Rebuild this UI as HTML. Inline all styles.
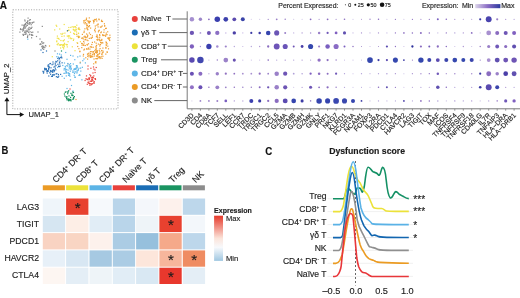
<!DOCTYPE html>
<html><head><meta charset="utf-8"><title>Figure</title>
<style>html,body{margin:0;padding:0;background:#fff;}text{stroke:#1e1e1e;stroke-width:0.15px;}body{width:520px;height:298px;overflow:hidden;}svg{display:block;}</style>
</head><body>
<svg width="520" height="298" viewBox="0 0 520 298" font-family="'Liberation Sans', Arial, sans-serif">
<rect width="520" height="298" fill="#fff"/>
<text x="-0.3" y="9.3" font-size="10" font-weight="bold" fill="#111">A</text>
<text x="1.6" y="153.9" font-size="10.3" font-weight="bold" fill="#111" transform="translate(1.6 0) scale(0.92 1) translate(-1.6 0)">B</text>
<text x="265.3" y="155.1" font-size="10.8" font-weight="bold" fill="#111" transform="translate(265.3 0) scale(0.9 1) translate(-265.3 0)">C</text>
<rect x="12.8" y="9.8" width="105.2" height="99.10000000000001" fill="none" stroke="#a8a8a8" stroke-width="1" stroke-dasharray="1.1 1.5"/>
<rect x="94.0" y="41.4" width="1.2" height="1.2" fill="#eea035"/>
<rect x="107.7" y="37.5" width="1.2" height="1.2" fill="#eea035"/>
<rect x="95.6" y="42.6" width="1.2" height="1.2" fill="#eea035"/>
<rect x="86.3" y="39.4" width="1.2" height="1.2" fill="#eea035"/>
<rect x="99.2" y="51.2" width="1.2" height="1.2" fill="#eea035"/>
<rect x="83.6" y="30.6" width="1.2" height="1.2" fill="#eea035"/>
<rect x="101.0" y="19.7" width="1.2" height="1.2" fill="#eea035"/>
<rect x="99.9" y="43.8" width="1.2" height="1.2" fill="#eea035"/>
<rect x="96.2" y="20.4" width="1.2" height="1.2" fill="#eea035"/>
<rect x="86.4" y="28.1" width="1.2" height="1.2" fill="#eea035"/>
<rect x="81.8" y="37.4" width="1.2" height="1.2" fill="#eea035"/>
<rect x="93.7" y="53.3" width="1.2" height="1.2" fill="#eea035"/>
<rect x="96.0" y="44.8" width="1.2" height="1.2" fill="#eea035"/>
<rect x="95.4" y="45.7" width="1.2" height="1.2" fill="#eea035"/>
<rect x="94.2" y="29.6" width="1.2" height="1.2" fill="#eea035"/>
<rect x="105.3" y="47.6" width="1.2" height="1.2" fill="#eea035"/>
<rect x="90.0" y="27.5" width="1.2" height="1.2" fill="#eea035"/>
<rect x="89.3" y="20.8" width="1.2" height="1.2" fill="#eea035"/>
<rect x="103.1" y="34.7" width="1.2" height="1.2" fill="#eea035"/>
<rect x="105.5" y="34.1" width="1.2" height="1.2" fill="#eea035"/>
<rect x="107.3" y="37.6" width="1.2" height="1.2" fill="#eea035"/>
<rect x="109.3" y="34.6" width="1.2" height="1.2" fill="#eea035"/>
<rect x="83.0" y="44.3" width="1.2" height="1.2" fill="#eea035"/>
<rect x="103.5" y="29.2" width="1.2" height="1.2" fill="#eea035"/>
<rect x="83.4" y="31.9" width="1.2" height="1.2" fill="#eea035"/>
<rect x="84.3" y="28.2" width="1.2" height="1.2" fill="#eea035"/>
<rect x="104.0" y="25.4" width="1.2" height="1.2" fill="#eea035"/>
<rect x="97.1" y="36.7" width="1.2" height="1.2" fill="#eea035"/>
<rect x="86.4" y="48.6" width="1.2" height="1.2" fill="#eea035"/>
<rect x="84.7" y="44.9" width="1.2" height="1.2" fill="#eea035"/>
<rect x="84.3" y="35.6" width="1.2" height="1.2" fill="#eea035"/>
<rect x="87.1" y="29.2" width="1.2" height="1.2" fill="#eea035"/>
<rect x="89.7" y="55.1" width="1.2" height="1.2" fill="#eea035"/>
<rect x="87.0" y="34.5" width="1.2" height="1.2" fill="#eea035"/>
<rect x="105.7" y="44.9" width="1.2" height="1.2" fill="#eea035"/>
<rect x="87.1" y="28.7" width="1.2" height="1.2" fill="#eea035"/>
<rect x="103.3" y="31.7" width="1.2" height="1.2" fill="#eea035"/>
<rect x="89.5" y="21.0" width="1.2" height="1.2" fill="#eea035"/>
<rect x="83.5" y="42.4" width="1.2" height="1.2" fill="#eea035"/>
<rect x="87.9" y="43.2" width="1.2" height="1.2" fill="#eea035"/>
<rect x="91.7" y="36.9" width="1.2" height="1.2" fill="#eea035"/>
<rect x="108.7" y="38.2" width="1.2" height="1.2" fill="#eea035"/>
<rect x="97.6" y="54.3" width="1.2" height="1.2" fill="#eea035"/>
<rect x="86.2" y="24.4" width="1.2" height="1.2" fill="#eea035"/>
<rect x="88.1" y="25.9" width="1.2" height="1.2" fill="#eea035"/>
<rect x="106.5" y="43.2" width="1.2" height="1.2" fill="#eea035"/>
<rect x="93.1" y="22.3" width="1.2" height="1.2" fill="#eea035"/>
<rect x="87.8" y="47.5" width="1.2" height="1.2" fill="#eea035"/>
<rect x="88.4" y="52.5" width="1.2" height="1.2" fill="#eea035"/>
<rect x="98.2" y="30.2" width="1.2" height="1.2" fill="#eea035"/>
<rect x="86.0" y="48.2" width="1.2" height="1.2" fill="#eea035"/>
<rect x="97.1" y="53.7" width="1.2" height="1.2" fill="#eea035"/>
<rect x="98.7" y="29.7" width="1.2" height="1.2" fill="#eea035"/>
<rect x="93.8" y="20.4" width="1.2" height="1.2" fill="#eea035"/>
<rect x="86.0" y="33.4" width="1.2" height="1.2" fill="#eea035"/>
<rect x="97.5" y="23.4" width="1.2" height="1.2" fill="#eea035"/>
<rect x="91.4" y="55.3" width="1.2" height="1.2" fill="#eea035"/>
<rect x="100.9" y="42.4" width="1.2" height="1.2" fill="#eea035"/>
<rect x="81.5" y="44.6" width="1.2" height="1.2" fill="#eea035"/>
<rect x="94.9" y="48.6" width="1.2" height="1.2" fill="#eea035"/>
<rect x="83.1" y="40.8" width="1.2" height="1.2" fill="#eea035"/>
<rect x="102.3" y="55.7" width="1.2" height="1.2" fill="#eea035"/>
<rect x="102.3" y="47.5" width="1.2" height="1.2" fill="#eea035"/>
<rect x="91.1" y="46.7" width="1.2" height="1.2" fill="#eea035"/>
<rect x="93.0" y="51.1" width="1.2" height="1.2" fill="#eea035"/>
<rect x="105.9" y="42.0" width="1.2" height="1.2" fill="#eea035"/>
<rect x="99.0" y="34.0" width="1.2" height="1.2" fill="#eea035"/>
<rect x="97.8" y="43.5" width="1.2" height="1.2" fill="#eea035"/>
<rect x="83.2" y="44.8" width="1.2" height="1.2" fill="#eea035"/>
<rect x="102.0" y="34.2" width="1.2" height="1.2" fill="#eea035"/>
<rect x="102.2" y="42.3" width="1.2" height="1.2" fill="#eea035"/>
<rect x="93.7" y="53.1" width="1.2" height="1.2" fill="#eea035"/>
<rect x="83.3" y="49.4" width="1.2" height="1.2" fill="#eea035"/>
<rect x="81.8" y="43.2" width="1.2" height="1.2" fill="#eea035"/>
<rect x="94.8" y="27.6" width="1.2" height="1.2" fill="#eea035"/>
<rect x="101.2" y="38.8" width="1.2" height="1.2" fill="#eea035"/>
<rect x="98.7" y="56.6" width="1.2" height="1.2" fill="#eea035"/>
<rect x="89.6" y="46.4" width="1.2" height="1.2" fill="#eea035"/>
<rect x="86.8" y="25.0" width="1.2" height="1.2" fill="#eea035"/>
<rect x="107.2" y="45.6" width="1.2" height="1.2" fill="#eea035"/>
<rect x="93.7" y="55.4" width="1.2" height="1.2" fill="#eea035"/>
<rect x="90.4" y="45.9" width="1.2" height="1.2" fill="#eea035"/>
<rect x="86.7" y="36.0" width="1.2" height="1.2" fill="#eea035"/>
<rect x="106.4" y="34.0" width="1.2" height="1.2" fill="#eea035"/>
<rect x="97.8" y="31.2" width="1.2" height="1.2" fill="#eea035"/>
<rect x="84.8" y="38.8" width="1.2" height="1.2" fill="#eea035"/>
<rect x="105.2" y="53.5" width="1.2" height="1.2" fill="#eea035"/>
<rect x="101.5" y="57.8" width="1.2" height="1.2" fill="#eea035"/>
<rect x="88.9" y="25.0" width="1.2" height="1.2" fill="#eea035"/>
<rect x="94.0" y="29.5" width="1.2" height="1.2" fill="#eea035"/>
<rect x="87.1" y="35.3" width="1.2" height="1.2" fill="#eea035"/>
<rect x="99.0" y="38.6" width="1.2" height="1.2" fill="#eea035"/>
<rect x="90.0" y="53.1" width="1.2" height="1.2" fill="#eea035"/>
<rect x="109.4" y="36.9" width="1.2" height="1.2" fill="#eea035"/>
<rect x="101.5" y="41.9" width="1.2" height="1.2" fill="#eea035"/>
<rect x="89.9" y="51.1" width="1.2" height="1.2" fill="#eea035"/>
<rect x="94.1" y="18.9" width="1.2" height="1.2" fill="#eea035"/>
<rect x="105.0" y="27.9" width="1.2" height="1.2" fill="#eea035"/>
<rect x="99.1" y="36.7" width="1.2" height="1.2" fill="#eea035"/>
<rect x="99.2" y="45.4" width="1.2" height="1.2" fill="#eea035"/>
<rect x="100.8" y="26.3" width="1.2" height="1.2" fill="#eea035"/>
<rect x="94.7" y="25.4" width="1.2" height="1.2" fill="#eea035"/>
<rect x="81.2" y="37.7" width="1.2" height="1.2" fill="#eea035"/>
<rect x="101.6" y="25.4" width="1.2" height="1.2" fill="#eea035"/>
<rect x="88.8" y="32.4" width="1.2" height="1.2" fill="#eea035"/>
<rect x="101.1" y="39.8" width="1.2" height="1.2" fill="#eea035"/>
<rect x="98.7" y="49.7" width="1.2" height="1.2" fill="#eea035"/>
<rect x="92.3" y="51.2" width="1.2" height="1.2" fill="#eea035"/>
<rect x="107.9" y="48.2" width="1.2" height="1.2" fill="#eea035"/>
<rect x="84.7" y="36.9" width="1.2" height="1.2" fill="#eea035"/>
<rect x="99.0" y="56.1" width="1.2" height="1.2" fill="#eea035"/>
<rect x="91.8" y="41.8" width="1.2" height="1.2" fill="#eea035"/>
<rect x="106.4" y="51.4" width="1.2" height="1.2" fill="#eea035"/>
<rect x="108.3" y="37.4" width="1.2" height="1.2" fill="#eea035"/>
<rect x="99.8" y="26.5" width="1.2" height="1.2" fill="#eea035"/>
<rect x="101.8" y="52.3" width="1.2" height="1.2" fill="#eea035"/>
<rect x="99.5" y="48.0" width="1.2" height="1.2" fill="#eea035"/>
<rect x="87.1" y="55.7" width="1.2" height="1.2" fill="#eea035"/>
<rect x="96.5" y="51.1" width="1.2" height="1.2" fill="#eea035"/>
<rect x="90.2" y="56.1" width="1.2" height="1.2" fill="#eea035"/>
<rect x="105.7" y="32.5" width="1.2" height="1.2" fill="#eea035"/>
<rect x="83.3" y="36.4" width="1.2" height="1.2" fill="#eea035"/>
<rect x="96.9" y="50.2" width="1.2" height="1.2" fill="#eea035"/>
<rect x="95.0" y="19.1" width="1.2" height="1.2" fill="#eea035"/>
<rect x="104.1" y="25.2" width="1.2" height="1.2" fill="#eea035"/>
<rect x="90.6" y="51.0" width="1.2" height="1.2" fill="#eea035"/>
<rect x="95.9" y="48.3" width="1.2" height="1.2" fill="#eea035"/>
<rect x="105.3" y="46.9" width="1.2" height="1.2" fill="#eea035"/>
<rect x="108.3" y="38.6" width="1.2" height="1.2" fill="#eea035"/>
<rect x="87.3" y="40.0" width="1.2" height="1.2" fill="#eea035"/>
<rect x="89.3" y="48.5" width="1.2" height="1.2" fill="#eea035"/>
<rect x="99.4" y="39.9" width="1.2" height="1.2" fill="#eea035"/>
<rect x="105.4" y="41.4" width="1.2" height="1.2" fill="#eea035"/>
<rect x="89.9" y="33.9" width="1.2" height="1.2" fill="#eea035"/>
<rect x="86.9" y="53.6" width="1.2" height="1.2" fill="#eea035"/>
<rect x="109.0" y="39.9" width="1.2" height="1.2" fill="#eea035"/>
<rect x="97.5" y="26.3" width="1.2" height="1.2" fill="#eea035"/>
<rect x="96.4" y="39.0" width="1.2" height="1.2" fill="#eea035"/>
<rect x="98.5" y="19.1" width="1.2" height="1.2" fill="#eea035"/>
<rect x="109.0" y="39.6" width="1.2" height="1.2" fill="#eea035"/>
<rect x="92.5" y="51.5" width="1.2" height="1.2" fill="#eea035"/>
<rect x="97.2" y="38.5" width="1.2" height="1.2" fill="#eea035"/>
<rect x="100.9" y="20.7" width="1.2" height="1.2" fill="#eea035"/>
<rect x="96.5" y="35.3" width="1.2" height="1.2" fill="#eea035"/>
<rect x="88.7" y="37.8" width="1.2" height="1.2" fill="#eea035"/>
<rect x="84.6" y="36.1" width="1.2" height="1.2" fill="#eea035"/>
<rect x="94.7" y="31.2" width="1.2" height="1.2" fill="#eea035"/>
<rect x="86.5" y="43.9" width="1.2" height="1.2" fill="#eea035"/>
<rect x="86.5" y="27.4" width="1.2" height="1.2" fill="#eea035"/>
<rect x="100.8" y="31.4" width="1.2" height="1.2" fill="#eea035"/>
<rect x="91.2" y="43.9" width="1.2" height="1.2" fill="#eea035"/>
<rect x="83.9" y="48.6" width="1.2" height="1.2" fill="#eea035"/>
<rect x="84.5" y="39.3" width="1.2" height="1.2" fill="#eea035"/>
<rect x="88.2" y="26.2" width="1.2" height="1.2" fill="#eea035"/>
<rect x="96.3" y="36.2" width="1.2" height="1.2" fill="#eea035"/>
<rect x="91.8" y="35.3" width="1.2" height="1.2" fill="#eea035"/>
<rect x="96.3" y="24.6" width="1.2" height="1.2" fill="#eea035"/>
<rect x="86.8" y="44.4" width="1.2" height="1.2" fill="#eea035"/>
<rect x="99.4" y="40.1" width="1.2" height="1.2" fill="#eea035"/>
<rect x="105.6" y="43.6" width="1.2" height="1.2" fill="#eea035"/>
<rect x="105.7" y="27.7" width="1.2" height="1.2" fill="#eea035"/>
<rect x="102.4" y="51.9" width="1.2" height="1.2" fill="#eea035"/>
<rect x="107.1" y="31.2" width="1.2" height="1.2" fill="#eea035"/>
<rect x="90.0" y="56.7" width="1.2" height="1.2" fill="#eea035"/>
<rect x="87.8" y="48.4" width="1.2" height="1.2" fill="#eea035"/>
<rect x="88.4" y="22.0" width="1.2" height="1.2" fill="#eea035"/>
<rect x="105.0" y="35.6" width="1.2" height="1.2" fill="#eea035"/>
<rect x="103.8" y="23.2" width="1.2" height="1.2" fill="#eea035"/>
<rect x="92.6" y="46.7" width="1.2" height="1.2" fill="#eea035"/>
<rect x="100.7" y="56.2" width="1.2" height="1.2" fill="#eea035"/>
<rect x="95.6" y="49.7" width="1.2" height="1.2" fill="#eea035"/>
<rect x="95.5" y="46.7" width="1.2" height="1.2" fill="#eea035"/>
<rect x="96.9" y="39.5" width="1.2" height="1.2" fill="#eea035"/>
<rect x="97.4" y="24.1" width="1.2" height="1.2" fill="#eea035"/>
<rect x="86.3" y="26.5" width="1.2" height="1.2" fill="#eea035"/>
<rect x="94.3" y="50.0" width="1.2" height="1.2" fill="#eea035"/>
<rect x="90.4" y="37.5" width="1.2" height="1.2" fill="#eea035"/>
<rect x="95.8" y="36.0" width="1.2" height="1.2" fill="#eea035"/>
<rect x="98.3" y="18.5" width="1.2" height="1.2" fill="#eea035"/>
<rect x="101.2" y="53.4" width="1.2" height="1.2" fill="#eea035"/>
<rect x="86.2" y="37.0" width="1.2" height="1.2" fill="#eea035"/>
<rect x="102.3" y="34.9" width="1.2" height="1.2" fill="#eea035"/>
<rect x="86.6" y="24.8" width="1.2" height="1.2" fill="#eea035"/>
<rect x="95.8" y="18.5" width="1.2" height="1.2" fill="#eea035"/>
<rect x="106.8" y="51.6" width="1.2" height="1.2" fill="#eea035"/>
<rect x="101.3" y="54.1" width="1.2" height="1.2" fill="#eea035"/>
<rect x="99.2" y="34.9" width="1.2" height="1.2" fill="#eea035"/>
<rect x="98.3" y="39.1" width="1.2" height="1.2" fill="#eea035"/>
<rect x="88.4" y="56.2" width="1.2" height="1.2" fill="#eea035"/>
<rect x="102.5" y="50.6" width="1.2" height="1.2" fill="#eea035"/>
<rect x="104.5" y="34.9" width="1.2" height="1.2" fill="#eea035"/>
<rect x="101.0" y="50.1" width="1.2" height="1.2" fill="#eea035"/>
<rect x="103.1" y="34.9" width="1.2" height="1.2" fill="#eea035"/>
<rect x="101.9" y="20.9" width="1.2" height="1.2" fill="#eea035"/>
<rect x="90.8" y="37.6" width="1.2" height="1.2" fill="#eea035"/>
<rect x="99.4" y="44.1" width="1.2" height="1.2" fill="#eea035"/>
<rect x="100.2" y="32.1" width="1.2" height="1.2" fill="#eea035"/>
<rect x="100.0" y="41.8" width="1.2" height="1.2" fill="#eea035"/>
<rect x="96.4" y="34.3" width="1.2" height="1.2" fill="#eea035"/>
<rect x="101.2" y="49.9" width="1.2" height="1.2" fill="#eea035"/>
<rect x="88.8" y="22.1" width="1.2" height="1.2" fill="#eea035"/>
<rect x="84.5" y="19.7" width="1.2" height="1.2" fill="#eea035"/>
<rect x="85.9" y="17.6" width="1.2" height="1.2" fill="#eea035"/>
<rect x="84.4" y="23.2" width="1.2" height="1.2" fill="#eea035"/>
<rect x="88.0" y="20.5" width="1.2" height="1.2" fill="#eea035"/>
<rect x="93.0" y="20.9" width="1.2" height="1.2" fill="#eea035"/>
<rect x="88.6" y="22.2" width="1.2" height="1.2" fill="#eea035"/>
<rect x="83.3" y="20.2" width="1.2" height="1.2" fill="#eea035"/>
<rect x="83.4" y="20.4" width="1.2" height="1.2" fill="#eea035"/>
<rect x="88.7" y="17.3" width="1.2" height="1.2" fill="#eea035"/>
<rect x="92.7" y="19.8" width="1.2" height="1.2" fill="#eea035"/>
<rect x="87.7" y="21.1" width="1.2" height="1.2" fill="#eea035"/>
<rect x="85.8" y="18.9" width="1.2" height="1.2" fill="#eea035"/>
<rect x="89.3" y="20.8" width="1.2" height="1.2" fill="#eea035"/>
<rect x="84.8" y="21.9" width="1.2" height="1.2" fill="#eea035"/>
<rect x="83.3" y="22.2" width="1.2" height="1.2" fill="#eea035"/>
<rect x="86.1" y="23.2" width="1.2" height="1.2" fill="#eea035"/>
<rect x="86.6" y="20.2" width="1.2" height="1.2" fill="#eea035"/>
<rect x="94.8" y="61.6" width="1.2" height="1.2" fill="#eea035"/>
<rect x="98.4" y="56.0" width="1.2" height="1.2" fill="#eea035"/>
<rect x="96.3" y="51.8" width="1.2" height="1.2" fill="#eea035"/>
<rect x="96.6" y="55.9" width="1.2" height="1.2" fill="#eea035"/>
<rect x="94.9" y="51.9" width="1.2" height="1.2" fill="#eea035"/>
<rect x="93.4" y="58.4" width="1.2" height="1.2" fill="#eea035"/>
<rect x="93.6" y="53.5" width="1.2" height="1.2" fill="#eea035"/>
<rect x="95.9" y="55.4" width="1.2" height="1.2" fill="#eea035"/>
<rect x="99.4" y="56.8" width="1.2" height="1.2" fill="#eea035"/>
<rect x="98.6" y="53.3" width="1.2" height="1.2" fill="#eea035"/>
<rect x="99.5" y="57.9" width="1.2" height="1.2" fill="#eea035"/>
<rect x="91.9" y="53.7" width="1.2" height="1.2" fill="#eea035"/>
<rect x="97.7" y="57.2" width="1.2" height="1.2" fill="#eea035"/>
<rect x="96.1" y="58.0" width="1.2" height="1.2" fill="#eea035"/>
<rect x="99.0" y="52.7" width="1.2" height="1.2" fill="#eea035"/>
<rect x="90.3" y="55.5" width="1.2" height="1.2" fill="#eea035"/>
<rect x="96.6" y="51.6" width="1.2" height="1.2" fill="#eea035"/>
<rect x="95.1" y="51.3" width="1.2" height="1.2" fill="#eea035"/>
<rect x="87.0" y="58.5" width="1.2" height="1.2" fill="#eea035"/>
<rect x="95.3" y="58.0" width="1.2" height="1.2" fill="#eea035"/>
<rect x="92.1" y="56.1" width="1.2" height="1.2" fill="#eea035"/>
<rect x="89.2" y="54.5" width="1.2" height="1.2" fill="#eea035"/>
<rect x="95.3" y="61.1" width="1.2" height="1.2" fill="#eea035"/>
<rect x="79.2" y="51.1" width="1.2" height="1.2" fill="#eea035"/>
<rect x="96.8" y="58.1" width="1.2" height="1.2" fill="#eea035"/>
<rect x="95.9" y="52.4" width="1.2" height="1.2" fill="#eea035"/>
<rect x="87.6" y="53.0" width="1.2" height="1.2" fill="#eea035"/>
<rect x="96.8" y="54.6" width="1.2" height="1.2" fill="#eea035"/>
<rect x="93.1" y="63.2" width="1.2" height="1.2" fill="#eea035"/>
<rect x="85.2" y="57.1" width="1.2" height="1.2" fill="#eea035"/>
<rect x="95.3" y="62.3" width="1.2" height="1.2" fill="#eea035"/>
<rect x="87.7" y="54.6" width="1.2" height="1.2" fill="#eea035"/>
<rect x="79.7" y="61.7" width="1.2" height="1.2" fill="#eea035"/>
<rect x="79.3" y="50.6" width="1.2" height="1.2" fill="#eea035"/>
<rect x="90.9" y="56.2" width="1.2" height="1.2" fill="#eea035"/>
<rect x="93.8" y="53.6" width="1.2" height="1.2" fill="#eea035"/>
<rect x="96.0" y="50.5" width="1.2" height="1.2" fill="#eea035"/>
<rect x="77.1" y="45.9" width="1.2" height="1.2" fill="#eea035"/>
<rect x="76.1" y="33.7" width="1.2" height="1.2" fill="#eea035"/>
<rect x="81.2" y="47.0" width="1.2" height="1.2" fill="#eea035"/>
<rect x="77.7" y="28.3" width="1.2" height="1.2" fill="#eea035"/>
<rect x="78.3" y="48.1" width="1.2" height="1.2" fill="#eea035"/>
<rect x="78.3" y="27.4" width="1.2" height="1.2" fill="#eea035"/>
<rect x="81.1" y="42.8" width="1.2" height="1.2" fill="#eea035"/>
<rect x="82.7" y="55.4" width="1.2" height="1.2" fill="#eea035"/>
<rect x="82.7" y="38.3" width="1.2" height="1.2" fill="#eea035"/>
<rect x="81.8" y="33.8" width="1.2" height="1.2" fill="#eea035"/>
<rect x="77.9" y="37.0" width="1.2" height="1.2" fill="#eea035"/>
<rect x="82.9" y="53.8" width="1.2" height="1.2" fill="#eea035"/>
<rect x="77.4" y="35.7" width="1.2" height="1.2" fill="#eea035"/>
<rect x="78.3" y="35.8" width="1.2" height="1.2" fill="#eea035"/>
<rect x="78.6" y="36.6" width="1.2" height="1.2" fill="#eea035"/>
<rect x="77.0" y="42.6" width="1.2" height="1.2" fill="#eea035"/>
<rect x="74.2" y="30.5" width="1.2" height="1.2" fill="#f0e146"/>
<rect x="75.2" y="30.1" width="1.2" height="1.2" fill="#f0e146"/>
<rect x="63.0" y="44.2" width="1.2" height="1.2" fill="#f0e146"/>
<rect x="73.5" y="26.0" width="1.2" height="1.2" fill="#f0e146"/>
<rect x="57.3" y="44.2" width="1.2" height="1.2" fill="#f0e146"/>
<rect x="69.0" y="35.4" width="1.2" height="1.2" fill="#f0e146"/>
<rect x="78.9" y="28.7" width="1.2" height="1.2" fill="#f0e146"/>
<rect x="71.2" y="37.9" width="1.2" height="1.2" fill="#f0e146"/>
<rect x="76.3" y="35.7" width="1.2" height="1.2" fill="#f0e146"/>
<rect x="59.8" y="44.4" width="1.2" height="1.2" fill="#f0e146"/>
<rect x="62.1" y="44.6" width="1.2" height="1.2" fill="#f0e146"/>
<rect x="68.1" y="29.8" width="1.2" height="1.2" fill="#f0e146"/>
<rect x="64.0" y="43.5" width="1.2" height="1.2" fill="#f0e146"/>
<rect x="70.4" y="38.1" width="1.2" height="1.2" fill="#f0e146"/>
<rect x="63.6" y="35.4" width="1.2" height="1.2" fill="#f0e146"/>
<rect x="79.1" y="29.0" width="1.2" height="1.2" fill="#f0e146"/>
<rect x="67.6" y="35.9" width="1.2" height="1.2" fill="#f0e146"/>
<rect x="74.1" y="33.8" width="1.2" height="1.2" fill="#f0e146"/>
<rect x="75.4" y="26.9" width="1.2" height="1.2" fill="#f0e146"/>
<rect x="76.0" y="31.4" width="1.2" height="1.2" fill="#f0e146"/>
<rect x="77.9" y="32.6" width="1.2" height="1.2" fill="#f0e146"/>
<rect x="78.6" y="28.8" width="1.2" height="1.2" fill="#f0e146"/>
<rect x="69.9" y="37.4" width="1.2" height="1.2" fill="#f0e146"/>
<rect x="73.1" y="29.1" width="1.2" height="1.2" fill="#f0e146"/>
<rect x="62.3" y="32.8" width="1.2" height="1.2" fill="#f0e146"/>
<rect x="61.5" y="33.8" width="1.2" height="1.2" fill="#f0e146"/>
<rect x="60.3" y="39.9" width="1.2" height="1.2" fill="#f0e146"/>
<rect x="56.1" y="41.1" width="1.2" height="1.2" fill="#f0e146"/>
<rect x="60.6" y="44.0" width="1.2" height="1.2" fill="#f0e146"/>
<rect x="70.2" y="26.8" width="1.2" height="1.2" fill="#f0e146"/>
<rect x="57.6" y="42.8" width="1.2" height="1.2" fill="#f0e146"/>
<rect x="73.1" y="38.6" width="1.2" height="1.2" fill="#f0e146"/>
<rect x="57.9" y="37.8" width="1.2" height="1.2" fill="#f0e146"/>
<rect x="63.8" y="42.7" width="1.2" height="1.2" fill="#f0e146"/>
<rect x="66.8" y="30.5" width="1.2" height="1.2" fill="#f0e146"/>
<rect x="58.5" y="38.6" width="1.2" height="1.2" fill="#f0e146"/>
<rect x="62.9" y="44.3" width="1.2" height="1.2" fill="#f0e146"/>
<rect x="63.8" y="39.3" width="1.2" height="1.2" fill="#f0e146"/>
<rect x="74.0" y="29.5" width="1.2" height="1.2" fill="#f0e146"/>
<rect x="66.0" y="44.2" width="1.2" height="1.2" fill="#f0e146"/>
<rect x="74.8" y="26.1" width="1.2" height="1.2" fill="#f0e146"/>
<rect x="72.8" y="39.8" width="1.2" height="1.2" fill="#f0e146"/>
<rect x="64.3" y="32.5" width="1.2" height="1.2" fill="#f0e146"/>
<rect x="72.8" y="28.7" width="1.2" height="1.2" fill="#f0e146"/>
<rect x="68.1" y="35.1" width="1.2" height="1.2" fill="#f0e146"/>
<rect x="68.2" y="29.5" width="1.2" height="1.2" fill="#f0e146"/>
<rect x="56.6" y="43.9" width="1.2" height="1.2" fill="#f0e146"/>
<rect x="67.5" y="41.1" width="1.2" height="1.2" fill="#f0e146"/>
<rect x="73.0" y="32.8" width="1.2" height="1.2" fill="#f0e146"/>
<rect x="56.7" y="37.6" width="1.2" height="1.2" fill="#f0e146"/>
<rect x="61.3" y="35.8" width="1.2" height="1.2" fill="#f0e146"/>
<rect x="75.5" y="28.9" width="1.2" height="1.2" fill="#f0e146"/>
<rect x="62.7" y="40.0" width="1.2" height="1.2" fill="#f0e146"/>
<rect x="62.5" y="44.8" width="1.2" height="1.2" fill="#f0e146"/>
<rect x="77.9" y="32.9" width="1.2" height="1.2" fill="#f0e146"/>
<rect x="56.2" y="40.3" width="1.2" height="1.2" fill="#f0e146"/>
<rect x="68.2" y="26.9" width="1.2" height="1.2" fill="#f0e146"/>
<rect x="66.7" y="35.4" width="1.2" height="1.2" fill="#f0e146"/>
<rect x="78.0" y="28.2" width="1.2" height="1.2" fill="#f0e146"/>
<rect x="73.2" y="26.7" width="1.2" height="1.2" fill="#f0e146"/>
<rect x="72.8" y="29.2" width="1.2" height="1.2" fill="#f0e146"/>
<rect x="71.6" y="26.2" width="1.2" height="1.2" fill="#f0e146"/>
<rect x="63.8" y="45.6" width="1.2" height="1.2" fill="#f0e146"/>
<rect x="60.0" y="47.4" width="1.2" height="1.2" fill="#f0e146"/>
<rect x="61.5" y="44.3" width="1.2" height="1.2" fill="#f0e146"/>
<rect x="59.2" y="44.2" width="1.2" height="1.2" fill="#f0e146"/>
<rect x="63.1" y="46.7" width="1.2" height="1.2" fill="#f0e146"/>
<rect x="62.0" y="46.5" width="1.2" height="1.2" fill="#f0e146"/>
<rect x="59.5" y="44.8" width="1.2" height="1.2" fill="#f0e146"/>
<rect x="63.0" y="48.2" width="1.2" height="1.2" fill="#f0e146"/>
<rect x="66.7" y="46.3" width="1.2" height="1.2" fill="#f0e146"/>
<rect x="65.5" y="43.8" width="1.2" height="1.2" fill="#f0e146"/>
<rect x="68.3" y="37.4" width="1.2" height="1.2" fill="#f0e146"/>
<rect x="51.7" y="56.1" width="1.2" height="1.2" fill="#f0e146"/>
<rect x="75.4" y="28.6" width="1.2" height="1.2" fill="#f0e146"/>
<rect x="69.9" y="31.6" width="1.2" height="1.2" fill="#f0e146"/>
<rect x="62.7" y="40.3" width="1.2" height="1.2" fill="#f0e146"/>
<rect x="60.3" y="33.2" width="1.2" height="1.2" fill="#f0e146"/>
<rect x="63.2" y="44.7" width="1.2" height="1.2" fill="#f0e146"/>
<rect x="59.1" y="28.4" width="1.2" height="1.2" fill="#f0e146"/>
<rect x="73.3" y="32.9" width="1.2" height="1.2" fill="#f0e146"/>
<rect x="79.8" y="41.1" width="1.2" height="1.2" fill="#f0e146"/>
<rect x="73.1" y="33.0" width="1.2" height="1.2" fill="#f0e146"/>
<rect x="76.2" y="24.6" width="1.2" height="1.2" fill="#f0e146"/>
<rect x="55.6" y="24.7" width="1.2" height="1.2" fill="#f0e146"/>
<rect x="71.7" y="46.2" width="1.2" height="1.2" fill="#f0e146"/>
<rect x="56.8" y="35.5" width="1.2" height="1.2" fill="#f0e146"/>
<rect x="76.5" y="42.1" width="1.2" height="1.2" fill="#f0e146"/>
<rect x="54.1" y="29.3" width="1.2" height="1.2" fill="#f0e146"/>
<rect x="56.1" y="25.7" width="1.2" height="1.2" fill="#f0e146"/>
<rect x="63.6" y="23.9" width="1.2" height="1.2" fill="#f0e146"/>
<rect x="79.0" y="36.3" width="1.2" height="1.2" fill="#f0e146"/>
<rect x="66.7" y="44.1" width="1.2" height="1.2" fill="#f0e146"/>
<rect x="74.4" y="50.1" width="1.2" height="1.2" fill="#f0e146"/>
<rect x="27.3" y="20.1" width="1.2" height="1.2" fill="#8a8a8a"/>
<rect x="27.5" y="17.5" width="1.2" height="1.2" fill="#8a8a8a"/>
<rect x="27.4" y="23.0" width="1.2" height="1.2" fill="#8a8a8a"/>
<rect x="30.0" y="22.3" width="1.2" height="1.2" fill="#8a8a8a"/>
<rect x="26.8" y="22.6" width="1.2" height="1.2" fill="#8a8a8a"/>
<rect x="24.5" y="20.4" width="1.2" height="1.2" fill="#8a8a8a"/>
<rect x="28.5" y="23.7" width="1.2" height="1.2" fill="#8a8a8a"/>
<rect x="31.7" y="22.3" width="1.2" height="1.2" fill="#8a8a8a"/>
<rect x="25.0" y="23.5" width="1.2" height="1.2" fill="#8a8a8a"/>
<rect x="32.4" y="21.8" width="1.2" height="1.2" fill="#8a8a8a"/>
<rect x="26.9" y="21.4" width="1.2" height="1.2" fill="#8a8a8a"/>
<rect x="24.8" y="23.1" width="1.2" height="1.2" fill="#8a8a8a"/>
<rect x="33.3" y="21.5" width="1.2" height="1.2" fill="#8a8a8a"/>
<rect x="30.6" y="24.1" width="1.2" height="1.2" fill="#8a8a8a"/>
<rect x="29.7" y="19.0" width="1.2" height="1.2" fill="#8a8a8a"/>
<rect x="24.2" y="19.4" width="1.2" height="1.2" fill="#8a8a8a"/>
<rect x="29.2" y="23.0" width="1.2" height="1.2" fill="#8a8a8a"/>
<rect x="26.7" y="24.8" width="1.2" height="1.2" fill="#8a8a8a"/>
<rect x="27.0" y="21.1" width="1.2" height="1.2" fill="#8a8a8a"/>
<rect x="28.8" y="21.9" width="1.2" height="1.2" fill="#8a8a8a"/>
<rect x="29.0" y="19.5" width="1.2" height="1.2" fill="#8a8a8a"/>
<rect x="31.6" y="22.2" width="1.2" height="1.2" fill="#8a8a8a"/>
<rect x="24.6" y="24.0" width="1.2" height="1.2" fill="#8a8a8a"/>
<rect x="26.3" y="24.6" width="1.2" height="1.2" fill="#8a8a8a"/>
<rect x="25.8" y="22.0" width="1.2" height="1.2" fill="#8a8a8a"/>
<rect x="25.5" y="25.9" width="1.2" height="1.2" fill="#8a8a8a"/>
<rect x="23.3" y="24.7" width="1.2" height="1.2" fill="#8a8a8a"/>
<rect x="24.2" y="27.3" width="1.2" height="1.2" fill="#8a8a8a"/>
<rect x="24.3" y="32.0" width="1.2" height="1.2" fill="#8a8a8a"/>
<rect x="22.0" y="30.4" width="1.2" height="1.2" fill="#8a8a8a"/>
<rect x="20.5" y="29.0" width="1.2" height="1.2" fill="#8a8a8a"/>
<rect x="20.0" y="28.2" width="1.2" height="1.2" fill="#8a8a8a"/>
<rect x="23.5" y="25.8" width="1.2" height="1.2" fill="#8a8a8a"/>
<rect x="23.1" y="26.8" width="1.2" height="1.2" fill="#8a8a8a"/>
<rect x="23.4" y="27.6" width="1.2" height="1.2" fill="#8a8a8a"/>
<rect x="24.0" y="24.3" width="1.2" height="1.2" fill="#8a8a8a"/>
<rect x="24.3" y="25.5" width="1.2" height="1.2" fill="#8a8a8a"/>
<rect x="26.6" y="30.5" width="1.2" height="1.2" fill="#8a8a8a"/>
<rect x="22.7" y="28.4" width="1.2" height="1.2" fill="#8a8a8a"/>
<rect x="23.9" y="31.5" width="1.2" height="1.2" fill="#8a8a8a"/>
<rect x="25.0" y="32.2" width="1.2" height="1.2" fill="#8a8a8a"/>
<rect x="22.8" y="34.8" width="1.2" height="1.2" fill="#8a8a8a"/>
<rect x="25.6" y="33.3" width="1.2" height="1.2" fill="#8a8a8a"/>
<rect x="22.2" y="28.7" width="1.2" height="1.2" fill="#8a8a8a"/>
<rect x="23.4" y="33.9" width="1.2" height="1.2" fill="#8a8a8a"/>
<rect x="23.1" y="29.7" width="1.2" height="1.2" fill="#8a8a8a"/>
<rect x="22.4" y="33.8" width="1.2" height="1.2" fill="#8a8a8a"/>
<rect x="21.5" y="24.5" width="1.2" height="1.2" fill="#8a8a8a"/>
<rect x="24.7" y="33.8" width="1.2" height="1.2" fill="#8a8a8a"/>
<rect x="24.8" y="30.5" width="1.2" height="1.2" fill="#8a8a8a"/>
<rect x="24.9" y="27.3" width="1.2" height="1.2" fill="#8a8a8a"/>
<rect x="23.6" y="24.7" width="1.2" height="1.2" fill="#8a8a8a"/>
<rect x="19.9" y="28.8" width="1.2" height="1.2" fill="#8a8a8a"/>
<rect x="22.9" y="28.3" width="1.2" height="1.2" fill="#8a8a8a"/>
<rect x="19.3" y="31.5" width="1.2" height="1.2" fill="#8a8a8a"/>
<rect x="30.7" y="27.8" width="1.2" height="1.2" fill="#8a8a8a"/>
<rect x="28.3" y="28.8" width="1.2" height="1.2" fill="#8a8a8a"/>
<rect x="32.2" y="31.6" width="1.2" height="1.2" fill="#8a8a8a"/>
<rect x="29.5" y="31.2" width="1.2" height="1.2" fill="#8a8a8a"/>
<rect x="27.3" y="30.9" width="1.2" height="1.2" fill="#8a8a8a"/>
<rect x="31.1" y="31.8" width="1.2" height="1.2" fill="#8a8a8a"/>
<rect x="26.0" y="31.2" width="1.2" height="1.2" fill="#8a8a8a"/>
<rect x="26.3" y="29.6" width="1.2" height="1.2" fill="#8a8a8a"/>
<rect x="27.6" y="28.2" width="1.2" height="1.2" fill="#8a8a8a"/>
<rect x="28.5" y="26.8" width="1.2" height="1.2" fill="#8a8a8a"/>
<rect x="29.3" y="28.5" width="1.2" height="1.2" fill="#8a8a8a"/>
<rect x="31.3" y="26.7" width="1.2" height="1.2" fill="#8a8a8a"/>
<rect x="28.3" y="29.4" width="1.2" height="1.2" fill="#8a8a8a"/>
<rect x="30.1" y="27.6" width="1.2" height="1.2" fill="#8a8a8a"/>
<rect x="28.1" y="31.9" width="1.2" height="1.2" fill="#8a8a8a"/>
<rect x="32.1" y="34.8" width="1.2" height="1.2" fill="#8a8a8a"/>
<rect x="29.2" y="34.1" width="1.2" height="1.2" fill="#8a8a8a"/>
<rect x="27.0" y="35.9" width="1.2" height="1.2" fill="#8a8a8a"/>
<rect x="26.9" y="36.9" width="1.2" height="1.2" fill="#8a8a8a"/>
<rect x="31.2" y="34.7" width="1.2" height="1.2" fill="#8a8a8a"/>
<rect x="31.1" y="33.9" width="1.2" height="1.2" fill="#8a8a8a"/>
<rect x="31.0" y="37.2" width="1.2" height="1.2" fill="#8a8a8a"/>
<rect x="29.0" y="33.7" width="1.2" height="1.2" fill="#8a8a8a"/>
<rect x="27.2" y="34.6" width="1.2" height="1.2" fill="#8a8a8a"/>
<rect x="31.1" y="34.2" width="1.2" height="1.2" fill="#8a8a8a"/>
<rect x="39.8" y="43.3" width="1.2" height="1.2" fill="#8a8a8a"/>
<rect x="44.2" y="47.0" width="1.2" height="1.2" fill="#8a8a8a"/>
<rect x="42.2" y="46.5" width="1.2" height="1.2" fill="#8a8a8a"/>
<rect x="44.8" y="44.9" width="1.2" height="1.2" fill="#8a8a8a"/>
<rect x="40.3" y="43.8" width="1.2" height="1.2" fill="#8a8a8a"/>
<rect x="45.3" y="45.4" width="1.2" height="1.2" fill="#8a8a8a"/>
<rect x="41.6" y="46.5" width="1.2" height="1.2" fill="#8a8a8a"/>
<rect x="42.2" y="45.3" width="1.2" height="1.2" fill="#8a8a8a"/>
<rect x="41.2" y="41.0" width="1.2" height="1.2" fill="#8a8a8a"/>
<rect x="42.3" y="42.9" width="1.2" height="1.2" fill="#8a8a8a"/>
<rect x="41.9" y="48.0" width="1.2" height="1.2" fill="#8a8a8a"/>
<rect x="39.4" y="43.9" width="1.2" height="1.2" fill="#8a8a8a"/>
<rect x="43.1" y="42.2" width="1.2" height="1.2" fill="#8a8a8a"/>
<rect x="41.3" y="45.8" width="1.2" height="1.2" fill="#8a8a8a"/>
<rect x="43.0" y="47.1" width="1.2" height="1.2" fill="#8a8a8a"/>
<rect x="43.1" y="48.8" width="1.2" height="1.2" fill="#8a8a8a"/>
<rect x="41.4" y="42.2" width="1.2" height="1.2" fill="#8a8a8a"/>
<rect x="43.2" y="46.0" width="1.2" height="1.2" fill="#8a8a8a"/>
<rect x="37.4" y="31.4" width="1.2" height="1.2" fill="#8a8a8a"/>
<rect x="35.9" y="35.9" width="1.2" height="1.2" fill="#8a8a8a"/>
<rect x="39.4" y="38.4" width="1.2" height="1.2" fill="#8a8a8a"/>
<rect x="41.7" y="25.8" width="1.2" height="1.2" fill="#8a8a8a"/>
<rect x="54.4" y="50.4" width="1.2" height="1.2" fill="#8a8a8a"/>
<rect x="67.4" y="63.4" width="1.2" height="1.2" fill="#8a8a8a"/>
<rect x="50.1" y="69.9" width="1.2" height="1.2" fill="#2a70b6"/>
<rect x="57.3" y="63.7" width="1.2" height="1.2" fill="#2a70b6"/>
<rect x="53.8" y="69.8" width="1.2" height="1.2" fill="#2a70b6"/>
<rect x="55.4" y="64.9" width="1.2" height="1.2" fill="#2a70b6"/>
<rect x="55.3" y="60.8" width="1.2" height="1.2" fill="#2a70b6"/>
<rect x="52.5" y="63.4" width="1.2" height="1.2" fill="#2a70b6"/>
<rect x="52.2" y="69.9" width="1.2" height="1.2" fill="#2a70b6"/>
<rect x="58.8" y="66.0" width="1.2" height="1.2" fill="#2a70b6"/>
<rect x="46.9" y="69.9" width="1.2" height="1.2" fill="#2a70b6"/>
<rect x="47.1" y="70.8" width="1.2" height="1.2" fill="#2a70b6"/>
<rect x="49.4" y="63.0" width="1.2" height="1.2" fill="#2a70b6"/>
<rect x="54.8" y="67.6" width="1.2" height="1.2" fill="#2a70b6"/>
<rect x="55.2" y="69.2" width="1.2" height="1.2" fill="#2a70b6"/>
<rect x="44.1" y="67.7" width="1.2" height="1.2" fill="#2a70b6"/>
<rect x="42.9" y="72.5" width="1.2" height="1.2" fill="#2a70b6"/>
<rect x="50.4" y="67.2" width="1.2" height="1.2" fill="#2a70b6"/>
<rect x="49.1" y="72.2" width="1.2" height="1.2" fill="#2a70b6"/>
<rect x="53.4" y="66.5" width="1.2" height="1.2" fill="#2a70b6"/>
<rect x="56.0" y="61.3" width="1.2" height="1.2" fill="#2a70b6"/>
<rect x="44.3" y="69.4" width="1.2" height="1.2" fill="#2a70b6"/>
<rect x="42.4" y="70.7" width="1.2" height="1.2" fill="#2a70b6"/>
<rect x="54.3" y="65.7" width="1.2" height="1.2" fill="#2a70b6"/>
<rect x="48.0" y="70.4" width="1.2" height="1.2" fill="#2a70b6"/>
<rect x="44.5" y="68.6" width="1.2" height="1.2" fill="#2a70b6"/>
<rect x="46.6" y="72.5" width="1.2" height="1.2" fill="#2a70b6"/>
<rect x="59.6" y="65.5" width="1.2" height="1.2" fill="#2a70b6"/>
<rect x="43.2" y="71.3" width="1.2" height="1.2" fill="#2a70b6"/>
<rect x="47.9" y="66.1" width="1.2" height="1.2" fill="#2a70b6"/>
<rect x="53.1" y="69.2" width="1.2" height="1.2" fill="#2a70b6"/>
<rect x="52.4" y="69.5" width="1.2" height="1.2" fill="#2a70b6"/>
<rect x="48.8" y="66.4" width="1.2" height="1.2" fill="#2a70b6"/>
<rect x="48.2" y="64.2" width="1.2" height="1.2" fill="#2a70b6"/>
<rect x="58.1" y="65.8" width="1.2" height="1.2" fill="#2a70b6"/>
<rect x="45.6" y="68.0" width="1.2" height="1.2" fill="#2a70b6"/>
<rect x="51.5" y="64.1" width="1.2" height="1.2" fill="#2a70b6"/>
<rect x="53.5" y="71.0" width="1.2" height="1.2" fill="#2a70b6"/>
<rect x="48.5" y="67.1" width="1.2" height="1.2" fill="#2a70b6"/>
<rect x="61.5" y="62.2" width="1.2" height="1.2" fill="#2a70b6"/>
<rect x="42.8" y="71.4" width="1.2" height="1.2" fill="#2a70b6"/>
<rect x="52.4" y="61.4" width="1.2" height="1.2" fill="#2a70b6"/>
<rect x="50.0" y="70.4" width="1.2" height="1.2" fill="#2a70b6"/>
<rect x="59.2" y="63.4" width="1.2" height="1.2" fill="#2a70b6"/>
<rect x="58.9" y="62.1" width="1.2" height="1.2" fill="#2a70b6"/>
<rect x="51.7" y="71.1" width="1.2" height="1.2" fill="#2a70b6"/>
<rect x="51.2" y="70.7" width="1.2" height="1.2" fill="#2a70b6"/>
<rect x="45.8" y="68.9" width="1.2" height="1.2" fill="#2a70b6"/>
<rect x="46.3" y="71.0" width="1.2" height="1.2" fill="#2a70b6"/>
<rect x="44.1" y="68.3" width="1.2" height="1.2" fill="#2a70b6"/>
<rect x="46.4" y="70.0" width="1.2" height="1.2" fill="#2a70b6"/>
<rect x="48.0" y="68.7" width="1.2" height="1.2" fill="#2a70b6"/>
<rect x="57.1" y="60.2" width="1.2" height="1.2" fill="#2a70b6"/>
<rect x="47.5" y="64.6" width="1.2" height="1.2" fill="#2a70b6"/>
<rect x="54.7" y="63.5" width="1.2" height="1.2" fill="#2a70b6"/>
<rect x="44.7" y="68.6" width="1.2" height="1.2" fill="#2a70b6"/>
<rect x="52.1" y="71.7" width="1.2" height="1.2" fill="#2a70b6"/>
<rect x="54.7" y="62.4" width="1.2" height="1.2" fill="#2a70b6"/>
<rect x="47.5" y="65.6" width="1.2" height="1.2" fill="#2a70b6"/>
<rect x="59.3" y="60.6" width="1.2" height="1.2" fill="#2a70b6"/>
<rect x="58.0" y="65.7" width="1.2" height="1.2" fill="#2a70b6"/>
<rect x="48.0" y="68.0" width="1.2" height="1.2" fill="#2a70b6"/>
<rect x="50.1" y="71.2" width="1.2" height="1.2" fill="#2a70b6"/>
<rect x="49.9" y="62.9" width="1.2" height="1.2" fill="#2a70b6"/>
<rect x="53.4" y="73.9" width="1.2" height="1.2" fill="#2a70b6"/>
<rect x="56.2" y="73.0" width="1.2" height="1.2" fill="#2a70b6"/>
<rect x="52.3" y="74.6" width="1.2" height="1.2" fill="#2a70b6"/>
<rect x="55.5" y="73.4" width="1.2" height="1.2" fill="#2a70b6"/>
<rect x="57.8" y="73.9" width="1.2" height="1.2" fill="#2a70b6"/>
<rect x="58.1" y="75.6" width="1.2" height="1.2" fill="#2a70b6"/>
<rect x="50.0" y="73.7" width="1.2" height="1.2" fill="#2a70b6"/>
<rect x="51.8" y="75.8" width="1.2" height="1.2" fill="#2a70b6"/>
<rect x="53.6" y="74.4" width="1.2" height="1.2" fill="#2a70b6"/>
<rect x="60.0" y="73.8" width="1.2" height="1.2" fill="#2a70b6"/>
<rect x="52.0" y="74.3" width="1.2" height="1.2" fill="#2a70b6"/>
<rect x="48.2" y="75.4" width="1.2" height="1.2" fill="#2a70b6"/>
<rect x="55.8" y="76.1" width="1.2" height="1.2" fill="#2a70b6"/>
<rect x="57.3" y="76.6" width="1.2" height="1.2" fill="#2a70b6"/>
<rect x="50.9" y="75.7" width="1.2" height="1.2" fill="#2a70b6"/>
<rect x="57.2" y="76.7" width="1.2" height="1.2" fill="#2a70b6"/>
<rect x="61.2" y="57.3" width="1.2" height="1.2" fill="#2a70b6"/>
<rect x="60.1" y="56.8" width="1.2" height="1.2" fill="#2a70b6"/>
<rect x="59.0" y="58.0" width="1.2" height="1.2" fill="#2a70b6"/>
<rect x="57.2" y="57.9" width="1.2" height="1.2" fill="#2a70b6"/>
<rect x="58.5" y="58.4" width="1.2" height="1.2" fill="#2a70b6"/>
<rect x="58.3" y="57.0" width="1.2" height="1.2" fill="#2a70b6"/>
<rect x="40.4" y="49.4" width="1.2" height="1.2" fill="#2a70b6"/>
<rect x="42.4" y="51.9" width="1.2" height="1.2" fill="#2a70b6"/>
<rect x="45.9" y="50.4" width="1.2" height="1.2" fill="#2a70b6"/>
<rect x="60.9" y="56.4" width="1.2" height="1.2" fill="#2a70b6"/>
<rect x="66.9" y="30.1" width="1.2" height="1.2" fill="#2a70b6"/>
<rect x="70.4" y="69.0" width="1.2" height="1.2" fill="#5db5e8"/>
<rect x="65.7" y="72.0" width="1.2" height="1.2" fill="#5db5e8"/>
<rect x="67.2" y="62.9" width="1.2" height="1.2" fill="#5db5e8"/>
<rect x="69.2" y="68.2" width="1.2" height="1.2" fill="#5db5e8"/>
<rect x="65.4" y="70.7" width="1.2" height="1.2" fill="#5db5e8"/>
<rect x="76.4" y="70.3" width="1.2" height="1.2" fill="#5db5e8"/>
<rect x="70.2" y="67.2" width="1.2" height="1.2" fill="#5db5e8"/>
<rect x="63.7" y="67.9" width="1.2" height="1.2" fill="#5db5e8"/>
<rect x="63.5" y="69.3" width="1.2" height="1.2" fill="#5db5e8"/>
<rect x="74.1" y="68.9" width="1.2" height="1.2" fill="#5db5e8"/>
<rect x="68.9" y="65.5" width="1.2" height="1.2" fill="#5db5e8"/>
<rect x="80.2" y="70.5" width="1.2" height="1.2" fill="#5db5e8"/>
<rect x="67.6" y="72.1" width="1.2" height="1.2" fill="#5db5e8"/>
<rect x="66.1" y="68.9" width="1.2" height="1.2" fill="#5db5e8"/>
<rect x="74.7" y="76.7" width="1.2" height="1.2" fill="#5db5e8"/>
<rect x="69.7" y="70.6" width="1.2" height="1.2" fill="#5db5e8"/>
<rect x="74.9" y="71.3" width="1.2" height="1.2" fill="#5db5e8"/>
<rect x="70.6" y="68.0" width="1.2" height="1.2" fill="#5db5e8"/>
<rect x="67.9" y="74.7" width="1.2" height="1.2" fill="#5db5e8"/>
<rect x="80.0" y="67.5" width="1.2" height="1.2" fill="#5db5e8"/>
<rect x="65.1" y="69.5" width="1.2" height="1.2" fill="#5db5e8"/>
<rect x="68.6" y="67.2" width="1.2" height="1.2" fill="#5db5e8"/>
<rect x="66.2" y="65.1" width="1.2" height="1.2" fill="#5db5e8"/>
<rect x="76.0" y="65.2" width="1.2" height="1.2" fill="#5db5e8"/>
<rect x="70.3" y="65.2" width="1.2" height="1.2" fill="#5db5e8"/>
<rect x="72.3" y="71.8" width="1.2" height="1.2" fill="#5db5e8"/>
<rect x="73.4" y="71.4" width="1.2" height="1.2" fill="#5db5e8"/>
<rect x="73.6" y="74.7" width="1.2" height="1.2" fill="#5db5e8"/>
<rect x="81.8" y="66.7" width="1.2" height="1.2" fill="#5db5e8"/>
<rect x="69.3" y="75.6" width="1.2" height="1.2" fill="#5db5e8"/>
<rect x="68.7" y="72.9" width="1.2" height="1.2" fill="#5db5e8"/>
<rect x="76.3" y="72.4" width="1.2" height="1.2" fill="#5db5e8"/>
<rect x="65.6" y="71.3" width="1.2" height="1.2" fill="#5db5e8"/>
<rect x="72.2" y="70.4" width="1.2" height="1.2" fill="#5db5e8"/>
<rect x="69.8" y="66.0" width="1.2" height="1.2" fill="#5db5e8"/>
<rect x="77.4" y="69.9" width="1.2" height="1.2" fill="#5db5e8"/>
<rect x="67.1" y="65.4" width="1.2" height="1.2" fill="#5db5e8"/>
<rect x="68.9" y="64.2" width="1.2" height="1.2" fill="#5db5e8"/>
<rect x="72.7" y="63.4" width="1.2" height="1.2" fill="#5db5e8"/>
<rect x="64.4" y="72.7" width="1.2" height="1.2" fill="#5db5e8"/>
<rect x="64.7" y="68.6" width="1.2" height="1.2" fill="#5db5e8"/>
<rect x="77.8" y="69.1" width="1.2" height="1.2" fill="#5db5e8"/>
<rect x="65.7" y="75.3" width="1.2" height="1.2" fill="#5db5e8"/>
<rect x="67.5" y="69.5" width="1.2" height="1.2" fill="#5db5e8"/>
<rect x="78.3" y="67.7" width="1.2" height="1.2" fill="#5db5e8"/>
<rect x="76.7" y="65.4" width="1.2" height="1.2" fill="#5db5e8"/>
<rect x="76.7" y="66.6" width="1.2" height="1.2" fill="#5db5e8"/>
<rect x="69.1" y="73.5" width="1.2" height="1.2" fill="#5db5e8"/>
<rect x="79.3" y="74.7" width="1.2" height="1.2" fill="#5db5e8"/>
<rect x="73.7" y="68.1" width="1.2" height="1.2" fill="#5db5e8"/>
<rect x="76.5" y="71.4" width="1.2" height="1.2" fill="#5db5e8"/>
<rect x="79.0" y="74.2" width="1.2" height="1.2" fill="#5db5e8"/>
<rect x="64.9" y="67.4" width="1.2" height="1.2" fill="#5db5e8"/>
<rect x="75.8" y="65.1" width="1.2" height="1.2" fill="#5db5e8"/>
<rect x="74.1" y="76.5" width="1.2" height="1.2" fill="#5db5e8"/>
<rect x="76.2" y="68.1" width="1.2" height="1.2" fill="#5db5e8"/>
<rect x="75.0" y="67.7" width="1.2" height="1.2" fill="#5db5e8"/>
<rect x="63.4" y="72.8" width="1.2" height="1.2" fill="#5db5e8"/>
<rect x="68.1" y="73.1" width="1.2" height="1.2" fill="#5db5e8"/>
<rect x="73.3" y="69.1" width="1.2" height="1.2" fill="#5db5e8"/>
<rect x="69.9" y="66.3" width="1.2" height="1.2" fill="#5db5e8"/>
<rect x="78.4" y="74.8" width="1.2" height="1.2" fill="#5db5e8"/>
<rect x="63.9" y="62.4" width="1.2" height="1.2" fill="#5db5e8"/>
<rect x="73.9" y="72.8" width="1.2" height="1.2" fill="#5db5e8"/>
<rect x="84.8" y="62.3" width="1.2" height="1.2" fill="#5db5e8"/>
<rect x="76.2" y="66.7" width="1.2" height="1.2" fill="#5db5e8"/>
<rect x="79.4" y="55.5" width="1.2" height="1.2" fill="#5db5e8"/>
<rect x="60.7" y="54.4" width="1.2" height="1.2" fill="#5db5e8"/>
<rect x="83.4" y="58.4" width="1.2" height="1.2" fill="#5db5e8"/>
<rect x="70.0" y="54.8" width="1.2" height="1.2" fill="#5db5e8"/>
<rect x="65.1" y="51.9" width="1.2" height="1.2" fill="#5db5e8"/>
<rect x="72.4" y="55.4" width="1.2" height="1.2" fill="#5db5e8"/>
<rect x="74.2" y="59.1" width="1.2" height="1.2" fill="#5db5e8"/>
<rect x="62.2" y="64.9" width="1.2" height="1.2" fill="#5db5e8"/>
<rect x="66.4" y="58.7" width="1.2" height="1.2" fill="#5db5e8"/>
<rect x="56.9" y="53.2" width="1.2" height="1.2" fill="#5db5e8"/>
<rect x="82.2" y="60.1" width="1.2" height="1.2" fill="#5db5e8"/>
<rect x="57.8" y="56.5" width="1.2" height="1.2" fill="#5db5e8"/>
<rect x="69.9" y="79.3" width="1.2" height="1.2" fill="#5db5e8"/>
<rect x="61.5" y="75.7" width="1.2" height="1.2" fill="#5db5e8"/>
<rect x="69.9" y="63.0" width="1.2" height="1.2" fill="#5db5e8"/>
<rect x="79.6" y="62.5" width="1.2" height="1.2" fill="#5db5e8"/>
<rect x="57.1" y="66.8" width="1.2" height="1.2" fill="#5db5e8"/>
<rect x="75.1" y="68.8" width="1.2" height="1.2" fill="#5db5e8"/>
<rect x="63.7" y="77.7" width="1.2" height="1.2" fill="#5db5e8"/>
<rect x="81.3" y="79.2" width="1.2" height="1.2" fill="#5db5e8"/>
<rect x="68.7" y="74.7" width="1.2" height="1.2" fill="#5db5e8"/>
<rect x="77.1" y="56.3" width="1.2" height="1.2" fill="#5db5e8"/>
<rect x="56.2" y="56.1" width="1.2" height="1.2" fill="#5db5e8"/>
<rect x="59.0" y="53.5" width="1.2" height="1.2" fill="#5db5e8"/>
<rect x="66.2" y="72.5" width="1.2" height="1.2" fill="#5db5e8"/>
<rect x="64.7" y="65.8" width="1.2" height="1.2" fill="#5db5e8"/>
<rect x="70.9" y="84.9" width="1.2" height="1.2" fill="#5db5e8"/>
<rect x="66.4" y="87.9" width="1.2" height="1.2" fill="#5db5e8"/>
<rect x="72.4" y="90.4" width="1.2" height="1.2" fill="#5db5e8"/>
<rect x="27.2" y="38.6" width="1.2" height="1.2" fill="#5db5e8"/>
<rect x="90.2" y="83.0" width="1.2" height="1.2" fill="#e8453e"/>
<rect x="93.1" y="82.3" width="1.2" height="1.2" fill="#e8453e"/>
<rect x="88.8" y="82.9" width="1.2" height="1.2" fill="#e8453e"/>
<rect x="93.5" y="82.6" width="1.2" height="1.2" fill="#e8453e"/>
<rect x="94.9" y="78.9" width="1.2" height="1.2" fill="#e8453e"/>
<rect x="92.2" y="77.4" width="1.2" height="1.2" fill="#e8453e"/>
<rect x="90.7" y="77.2" width="1.2" height="1.2" fill="#e8453e"/>
<rect x="88.7" y="78.6" width="1.2" height="1.2" fill="#e8453e"/>
<rect x="91.6" y="83.0" width="1.2" height="1.2" fill="#e8453e"/>
<rect x="88.4" y="81.3" width="1.2" height="1.2" fill="#e8453e"/>
<rect x="88.3" y="77.7" width="1.2" height="1.2" fill="#e8453e"/>
<rect x="94.4" y="78.1" width="1.2" height="1.2" fill="#e8453e"/>
<rect x="85.4" y="78.2" width="1.2" height="1.2" fill="#e8453e"/>
<rect x="92.6" y="77.0" width="1.2" height="1.2" fill="#e8453e"/>
<rect x="92.6" y="80.4" width="1.2" height="1.2" fill="#e8453e"/>
<rect x="91.9" y="76.7" width="1.2" height="1.2" fill="#e8453e"/>
<rect x="88.3" y="79.2" width="1.2" height="1.2" fill="#e8453e"/>
<rect x="84.5" y="79.9" width="1.2" height="1.2" fill="#e8453e"/>
<rect x="88.8" y="78.1" width="1.2" height="1.2" fill="#e8453e"/>
<rect x="90.3" y="84.4" width="1.2" height="1.2" fill="#e8453e"/>
<rect x="86.7" y="83.7" width="1.2" height="1.2" fill="#e8453e"/>
<rect x="87.9" y="82.4" width="1.2" height="1.2" fill="#e8453e"/>
<rect x="89.1" y="84.5" width="1.2" height="1.2" fill="#e8453e"/>
<rect x="86.8" y="79.0" width="1.2" height="1.2" fill="#e8453e"/>
<rect x="92.2" y="76.7" width="1.2" height="1.2" fill="#e8453e"/>
<rect x="87.4" y="81.7" width="1.2" height="1.2" fill="#e8453e"/>
<rect x="94.8" y="78.1" width="1.2" height="1.2" fill="#e8453e"/>
<rect x="86.4" y="78.5" width="1.2" height="1.2" fill="#e8453e"/>
<rect x="91.4" y="78.7" width="1.2" height="1.2" fill="#e8453e"/>
<rect x="91.5" y="77.0" width="1.2" height="1.2" fill="#e8453e"/>
<rect x="91.2" y="83.8" width="1.2" height="1.2" fill="#e8453e"/>
<rect x="93.8" y="81.2" width="1.2" height="1.2" fill="#e8453e"/>
<rect x="90.0" y="80.6" width="1.2" height="1.2" fill="#e8453e"/>
<rect x="92.0" y="79.4" width="1.2" height="1.2" fill="#e8453e"/>
<rect x="91.7" y="79.1" width="1.2" height="1.2" fill="#e8453e"/>
<rect x="88.6" y="77.2" width="1.2" height="1.2" fill="#e8453e"/>
<rect x="91.0" y="80.6" width="1.2" height="1.2" fill="#e8453e"/>
<rect x="90.1" y="75.2" width="1.2" height="1.2" fill="#e8453e"/>
<rect x="91.3" y="79.4" width="1.2" height="1.2" fill="#e8453e"/>
<rect x="90.9" y="80.8" width="1.2" height="1.2" fill="#e8453e"/>
<rect x="95.6" y="66.9" width="1.2" height="1.2" fill="#e8453e"/>
<rect x="90.0" y="75.3" width="1.2" height="1.2" fill="#e8453e"/>
<rect x="93.3" y="68.5" width="1.2" height="1.2" fill="#e8453e"/>
<rect x="93.2" y="75.3" width="1.2" height="1.2" fill="#e8453e"/>
<rect x="89.2" y="74.1" width="1.2" height="1.2" fill="#e8453e"/>
<rect x="85.9" y="75.3" width="1.2" height="1.2" fill="#e8453e"/>
<rect x="90.3" y="67.7" width="1.2" height="1.2" fill="#e8453e"/>
<rect x="94.5" y="71.9" width="1.2" height="1.2" fill="#e8453e"/>
<rect x="87.4" y="65.4" width="1.2" height="1.2" fill="#e8453e"/>
<rect x="92.9" y="66.4" width="1.2" height="1.2" fill="#e8453e"/>
<rect x="87.4" y="68.4" width="1.2" height="1.2" fill="#e8453e"/>
<rect x="92.4" y="72.4" width="1.2" height="1.2" fill="#e8453e"/>
<rect x="94.4" y="69.4" width="1.2" height="1.2" fill="#e8453e"/>
<rect x="69.4" y="88.4" width="1.2" height="1.2" fill="#e8453e"/>
<rect x="72.2" y="95.0" width="1.2" height="1.2" fill="#17915f"/>
<rect x="73.0" y="97.0" width="1.2" height="1.2" fill="#17915f"/>
<rect x="66.2" y="98.0" width="1.2" height="1.2" fill="#17915f"/>
<rect x="68.4" y="95.3" width="1.2" height="1.2" fill="#17915f"/>
<rect x="72.9" y="91.9" width="1.2" height="1.2" fill="#17915f"/>
<rect x="66.5" y="96.3" width="1.2" height="1.2" fill="#17915f"/>
<rect x="64.2" y="95.4" width="1.2" height="1.2" fill="#17915f"/>
<rect x="72.1" y="94.8" width="1.2" height="1.2" fill="#17915f"/>
<rect x="66.1" y="97.9" width="1.2" height="1.2" fill="#17915f"/>
<rect x="72.8" y="97.6" width="1.2" height="1.2" fill="#17915f"/>
<rect x="69.4" y="99.0" width="1.2" height="1.2" fill="#17915f"/>
<rect x="72.2" y="91.4" width="1.2" height="1.2" fill="#17915f"/>
<rect x="67.4" y="90.9" width="1.2" height="1.2" fill="#17915f"/>
<rect x="63.8" y="93.4" width="1.2" height="1.2" fill="#17915f"/>
<rect x="72.9" y="98.2" width="1.2" height="1.2" fill="#17915f"/>
<rect x="64.7" y="91.7" width="1.2" height="1.2" fill="#17915f"/>
<rect x="67.7" y="98.4" width="1.2" height="1.2" fill="#17915f"/>
<rect x="70.2" y="98.9" width="1.2" height="1.2" fill="#17915f"/>
<rect x="65.7" y="96.2" width="1.2" height="1.2" fill="#17915f"/>
<rect x="73.0" y="97.2" width="1.2" height="1.2" fill="#17915f"/>
<rect x="65.6" y="96.6" width="1.2" height="1.2" fill="#17915f"/>
<rect x="68.1" y="90.1" width="1.2" height="1.2" fill="#17915f"/>
<rect x="67.1" y="93.1" width="1.2" height="1.2" fill="#17915f"/>
<rect x="70.3" y="92.7" width="1.2" height="1.2" fill="#17915f"/>
<rect x="70.0" y="96.8" width="1.2" height="1.2" fill="#17915f"/>
<rect x="65.4" y="91.2" width="1.2" height="1.2" fill="#17915f"/>
<rect x="71.0" y="94.6" width="1.2" height="1.2" fill="#17915f"/>
<rect x="73.8" y="96.0" width="1.2" height="1.2" fill="#17915f"/>
<rect x="67.3" y="91.9" width="1.2" height="1.2" fill="#17915f"/>
<rect x="71.5" y="93.5" width="1.2" height="1.2" fill="#17915f"/>
<rect x="68.3" y="98.6" width="1.2" height="1.2" fill="#17915f"/>
<rect x="66.5" y="99.3" width="1.2" height="1.2" fill="#17915f"/>
<rect x="69.6" y="99.9" width="1.2" height="1.2" fill="#17915f"/>
<rect x="69.4" y="98.8" width="1.2" height="1.2" fill="#17915f"/>
<rect x="70.5" y="100.2" width="1.2" height="1.2" fill="#17915f"/>
<rect x="68.7" y="99.5" width="1.2" height="1.2" fill="#17915f"/>
<rect x="67.5" y="99.1" width="1.2" height="1.2" fill="#17915f"/>
<rect x="68.0" y="100.0" width="1.2" height="1.2" fill="#17915f"/>
<rect x="68.1" y="100.0" width="1.2" height="1.2" fill="#17915f"/>
<rect x="72.3" y="98.8" width="1.2" height="1.2" fill="#17915f"/>
<rect x="60.9" y="50.4" width="1.2" height="1.2" fill="#17915f"/>
<rect x="48.9" y="45.4" width="1.2" height="1.2" fill="#eea035"/>
<rect x="75.4" y="98.9" width="1.2" height="1.2" fill="#eea035"/>
<path d="M6.9 100.5 V114.6 H20.5" fill="none" stroke="#111" stroke-width="1"/>
<path d="M4.4 101.3 L6.9 97.3 L9.4 101.3 Z" fill="#111"/>
<path d="M19.8 112.3 L24.2 114.6 L19.8 116.9 Z" fill="#111"/>
<text x="28.6" y="117.1" font-size="7.6" fill="#1e1e1e">UMAP_1</text>
<text transform="translate(9.2,94.0) rotate(-90)" font-size="7.6" fill="#1e1e1e">UMAP_2</text>
<path d="M187.2 11.3 V108.8 H520" fill="none" stroke="#7a7a7a" stroke-width="1"/>
<line x1="191.9" y1="108.8" x2="191.9" y2="110.7" stroke="#7a7a7a" stroke-width="0.8"/>
<line x1="200.4" y1="108.8" x2="200.4" y2="110.7" stroke="#7a7a7a" stroke-width="0.8"/>
<line x1="208.9" y1="108.8" x2="208.9" y2="110.7" stroke="#7a7a7a" stroke-width="0.8"/>
<line x1="217.3" y1="108.8" x2="217.3" y2="110.7" stroke="#7a7a7a" stroke-width="0.8"/>
<line x1="225.8" y1="108.8" x2="225.8" y2="110.7" stroke="#7a7a7a" stroke-width="0.8"/>
<line x1="234.3" y1="108.8" x2="234.3" y2="110.7" stroke="#7a7a7a" stroke-width="0.8"/>
<line x1="242.8" y1="108.8" x2="242.8" y2="110.7" stroke="#7a7a7a" stroke-width="0.8"/>
<line x1="251.3" y1="108.8" x2="251.3" y2="110.7" stroke="#7a7a7a" stroke-width="0.8"/>
<line x1="259.7" y1="108.8" x2="259.7" y2="110.7" stroke="#7a7a7a" stroke-width="0.8"/>
<line x1="268.2" y1="108.8" x2="268.2" y2="110.7" stroke="#7a7a7a" stroke-width="0.8"/>
<line x1="276.7" y1="108.8" x2="276.7" y2="110.7" stroke="#7a7a7a" stroke-width="0.8"/>
<line x1="285.2" y1="108.8" x2="285.2" y2="110.7" stroke="#7a7a7a" stroke-width="0.8"/>
<line x1="293.7" y1="108.8" x2="293.7" y2="110.7" stroke="#7a7a7a" stroke-width="0.8"/>
<line x1="302.1" y1="108.8" x2="302.1" y2="110.7" stroke="#7a7a7a" stroke-width="0.8"/>
<line x1="310.6" y1="108.8" x2="310.6" y2="110.7" stroke="#7a7a7a" stroke-width="0.8"/>
<line x1="319.1" y1="108.8" x2="319.1" y2="110.7" stroke="#7a7a7a" stroke-width="0.8"/>
<line x1="327.6" y1="108.8" x2="327.6" y2="110.7" stroke="#7a7a7a" stroke-width="0.8"/>
<line x1="336.1" y1="108.8" x2="336.1" y2="110.7" stroke="#7a7a7a" stroke-width="0.8"/>
<line x1="344.5" y1="108.8" x2="344.5" y2="110.7" stroke="#7a7a7a" stroke-width="0.8"/>
<line x1="353.0" y1="108.8" x2="353.0" y2="110.7" stroke="#7a7a7a" stroke-width="0.8"/>
<line x1="361.5" y1="108.8" x2="361.5" y2="110.7" stroke="#7a7a7a" stroke-width="0.8"/>
<line x1="370.0" y1="108.8" x2="370.0" y2="110.7" stroke="#7a7a7a" stroke-width="0.8"/>
<line x1="378.5" y1="108.8" x2="378.5" y2="110.7" stroke="#7a7a7a" stroke-width="0.8"/>
<line x1="386.9" y1="108.8" x2="386.9" y2="110.7" stroke="#7a7a7a" stroke-width="0.8"/>
<line x1="395.4" y1="108.8" x2="395.4" y2="110.7" stroke="#7a7a7a" stroke-width="0.8"/>
<line x1="403.9" y1="108.8" x2="403.9" y2="110.7" stroke="#7a7a7a" stroke-width="0.8"/>
<line x1="412.4" y1="108.8" x2="412.4" y2="110.7" stroke="#7a7a7a" stroke-width="0.8"/>
<line x1="420.9" y1="108.8" x2="420.9" y2="110.7" stroke="#7a7a7a" stroke-width="0.8"/>
<line x1="429.3" y1="108.8" x2="429.3" y2="110.7" stroke="#7a7a7a" stroke-width="0.8"/>
<line x1="437.8" y1="108.8" x2="437.8" y2="110.7" stroke="#7a7a7a" stroke-width="0.8"/>
<line x1="446.3" y1="108.8" x2="446.3" y2="110.7" stroke="#7a7a7a" stroke-width="0.8"/>
<line x1="454.8" y1="108.8" x2="454.8" y2="110.7" stroke="#7a7a7a" stroke-width="0.8"/>
<line x1="463.3" y1="108.8" x2="463.3" y2="110.7" stroke="#7a7a7a" stroke-width="0.8"/>
<line x1="471.7" y1="108.8" x2="471.7" y2="110.7" stroke="#7a7a7a" stroke-width="0.8"/>
<line x1="480.2" y1="108.8" x2="480.2" y2="110.7" stroke="#7a7a7a" stroke-width="0.8"/>
<line x1="488.7" y1="108.8" x2="488.7" y2="110.7" stroke="#7a7a7a" stroke-width="0.8"/>
<line x1="497.2" y1="108.8" x2="497.2" y2="110.7" stroke="#7a7a7a" stroke-width="0.8"/>
<line x1="505.7" y1="108.8" x2="505.7" y2="110.7" stroke="#7a7a7a" stroke-width="0.8"/>
<line x1="514.1" y1="108.8" x2="514.1" y2="110.7" stroke="#7a7a7a" stroke-width="0.8"/>
<circle cx="191.9" cy="19.3" r="2.25" fill="#a58fd0"/>
<circle cx="200.4" cy="19.3" r="1.70" fill="#9b86c8"/>
<circle cx="208.9" cy="19.3" r="0.90" fill="#8a6cc0"/>
<circle cx="217.3" cy="19.3" r="2.75" fill="#3a3fae"/>
<circle cx="225.8" cy="19.3" r="2.35" fill="#3c40ac"/>
<circle cx="234.3" cy="19.3" r="1.90" fill="#5b4aae"/>
<circle cx="242.8" cy="19.3" r="2.00" fill="#3a44a8"/>
<circle cx="251.3" cy="19.3" r="0.57" fill="#d0c4e8"/>
<circle cx="259.7" cy="19.3" r="0.57" fill="#c8bce4"/>
<circle cx="268.2" cy="19.3" r="0.65" fill="#9a80c8"/>
<circle cx="276.7" cy="19.3" r="0.90" fill="#9a80c8"/>
<circle cx="285.2" cy="19.3" r="0.75" fill="#9a80c8"/>
<circle cx="293.7" cy="19.3" r="0.57" fill="#c8bce4"/>
<circle cx="302.1" cy="19.3" r="0.57" fill="#c8bce4"/>
<circle cx="310.6" cy="19.3" r="0.90" fill="#8a6cc0"/>
<circle cx="319.1" cy="19.3" r="0.65" fill="#a890d0"/>
<circle cx="327.6" cy="19.3" r="0.90" fill="#8a6cc0"/>
<circle cx="336.1" cy="19.3" r="0.65" fill="#a890d0"/>
<circle cx="344.5" cy="19.3" r="0.80" fill="#8a6cc0"/>
<circle cx="353.0" cy="19.3" r="0.57" fill="#c8bce4"/>
<circle cx="361.5" cy="19.3" r="0.57" fill="#a890d0"/>
<circle cx="370.0" cy="19.3" r="0.75" fill="#a890d0"/>
<circle cx="378.5" cy="19.3" r="0.75" fill="#8a6cc0"/>
<circle cx="386.9" cy="19.3" r="0.57" fill="#c8bce4"/>
<circle cx="395.4" cy="19.3" r="0.65" fill="#8a6cc0"/>
<circle cx="403.9" cy="19.3" r="0.57" fill="#c8bce4"/>
<circle cx="412.4" cy="19.3" r="0.65" fill="#8a6cc0"/>
<circle cx="420.9" cy="19.3" r="0.65" fill="#a890d0"/>
<circle cx="429.3" cy="19.3" r="0.65" fill="#8a6cc0"/>
<circle cx="437.8" cy="19.3" r="1.00" fill="#7a60c0"/>
<circle cx="446.3" cy="19.3" r="0.80" fill="#8a6cc0"/>
<circle cx="454.8" cy="19.3" r="0.65" fill="#a890d0"/>
<circle cx="463.3" cy="19.3" r="0.57" fill="#a890d0"/>
<circle cx="471.7" cy="19.3" r="0.57" fill="#a890d0"/>
<circle cx="480.2" cy="19.3" r="1.10" fill="#3b3aa4"/>
<circle cx="488.7" cy="19.3" r="2.95" fill="#4a44ae"/>
<circle cx="497.2" cy="19.3" r="1.10" fill="#9a80c8"/>
<circle cx="505.7" cy="19.3" r="0.65" fill="#a890d0"/>
<circle cx="514.1" cy="19.3" r="0.65" fill="#b0a0d8"/>
<circle cx="191.9" cy="32.9" r="2.15" fill="#6e55b5"/>
<circle cx="200.4" cy="32.9" r="0.90" fill="#b09dd6"/>
<circle cx="208.9" cy="32.9" r="2.00" fill="#6e55b5"/>
<circle cx="217.3" cy="32.9" r="2.15" fill="#8b6fc4"/>
<circle cx="225.8" cy="32.9" r="0.75" fill="#c8b8e5"/>
<circle cx="234.3" cy="32.9" r="1.70" fill="#4a3fa6"/>
<circle cx="242.8" cy="32.9" r="0.65" fill="#c8b8e5"/>
<circle cx="251.3" cy="32.9" r="1.10" fill="#3b3aa4"/>
<circle cx="259.7" cy="32.9" r="1.25" fill="#3b3aa4"/>
<circle cx="268.2" cy="32.9" r="2.25" fill="#3545ae"/>
<circle cx="276.7" cy="32.9" r="2.55" fill="#6a55b5"/>
<circle cx="285.2" cy="32.9" r="1.00" fill="#9a80c8"/>
<circle cx="293.7" cy="32.9" r="0.65" fill="#c0b0e0"/>
<circle cx="302.1" cy="32.9" r="0.65" fill="#a890d0"/>
<circle cx="310.6" cy="32.9" r="0.75" fill="#a890d0"/>
<circle cx="319.1" cy="32.9" r="1.25" fill="#9a80c8"/>
<circle cx="327.6" cy="32.9" r="1.10" fill="#7058b8"/>
<circle cx="336.1" cy="32.9" r="1.40" fill="#8060c0"/>
<circle cx="344.5" cy="32.9" r="1.55" fill="#6050b0"/>
<circle cx="353.0" cy="32.9" r="0.65" fill="#c8bce4"/>
<circle cx="361.5" cy="32.9" r="0.65" fill="#a890d0"/>
<circle cx="370.0" cy="32.9" r="0.65" fill="#c8bce4"/>
<circle cx="378.5" cy="32.9" r="0.65" fill="#a890d0"/>
<circle cx="386.9" cy="32.9" r="0.65" fill="#c8bce4"/>
<circle cx="395.4" cy="32.9" r="0.65" fill="#8a6cc0"/>
<circle cx="403.9" cy="32.9" r="0.90" fill="#9a80c8"/>
<circle cx="412.4" cy="32.9" r="0.75" fill="#8a6cc0"/>
<circle cx="420.9" cy="32.9" r="1.00" fill="#8a6cc0"/>
<circle cx="429.3" cy="32.9" r="0.75" fill="#8a6cc0"/>
<circle cx="437.8" cy="32.9" r="0.65" fill="#c8bce4"/>
<circle cx="446.3" cy="32.9" r="0.65" fill="#8a6cc0"/>
<circle cx="454.8" cy="32.9" r="0.70" fill="#b0a0d8"/>
<circle cx="463.3" cy="32.9" r="0.65" fill="#a890d0"/>
<circle cx="471.7" cy="32.9" r="0.90" fill="#8a6cc0"/>
<circle cx="480.2" cy="32.9" r="0.57" fill="#c8bce4"/>
<circle cx="488.7" cy="32.9" r="2.40" fill="#a890d0"/>
<circle cx="497.2" cy="32.9" r="2.00" fill="#8a6cc0"/>
<circle cx="505.7" cy="32.9" r="2.00" fill="#6e55b5"/>
<circle cx="514.1" cy="32.9" r="2.00" fill="#8060c0"/>
<circle cx="191.9" cy="46.5" r="2.15" fill="#7e5fbe"/>
<circle cx="200.4" cy="46.5" r="0.65" fill="#a58fcf"/>
<circle cx="208.9" cy="46.5" r="2.65" fill="#3b3fae"/>
<circle cx="217.3" cy="46.5" r="1.25" fill="#a48dd2"/>
<circle cx="225.8" cy="46.5" r="1.10" fill="#9b82ca"/>
<circle cx="234.3" cy="46.5" r="0.65" fill="#b0a0d8"/>
<circle cx="242.8" cy="46.5" r="0.57" fill="#c0b0e0"/>
<circle cx="251.3" cy="46.5" r="0.65" fill="#b0a0d8"/>
<circle cx="259.7" cy="46.5" r="0.65" fill="#a890d0"/>
<circle cx="268.2" cy="46.5" r="1.15" fill="#8a6cc0"/>
<circle cx="276.7" cy="46.5" r="2.95" fill="#6e55b8"/>
<circle cx="285.2" cy="46.5" r="2.55" fill="#6a55b8"/>
<circle cx="293.7" cy="46.5" r="1.00" fill="#6e55b5"/>
<circle cx="302.1" cy="46.5" r="1.40" fill="#4b3fa8"/>
<circle cx="310.6" cy="46.5" r="2.55" fill="#3548ae"/>
<circle cx="319.1" cy="46.5" r="1.10" fill="#9a80c8"/>
<circle cx="327.6" cy="46.5" r="2.25" fill="#7a5fc0"/>
<circle cx="336.1" cy="46.5" r="2.55" fill="#8a6cc5"/>
<circle cx="344.5" cy="46.5" r="1.00" fill="#7a5fc0"/>
<circle cx="353.0" cy="46.5" r="0.80" fill="#9a80c8"/>
<circle cx="361.5" cy="46.5" r="0.57" fill="#a890d0"/>
<circle cx="370.0" cy="46.5" r="0.57" fill="#c8bce4"/>
<circle cx="378.5" cy="46.5" r="0.57" fill="#a890d0"/>
<circle cx="386.9" cy="46.5" r="1.10" fill="#5a4ab0"/>
<circle cx="395.4" cy="46.5" r="0.65" fill="#8a6cc0"/>
<circle cx="403.9" cy="46.5" r="0.57" fill="#c8bce4"/>
<circle cx="412.4" cy="46.5" r="1.15" fill="#2b2f9b"/>
<circle cx="420.9" cy="46.5" r="1.10" fill="#8a6cc0"/>
<circle cx="429.3" cy="46.5" r="1.00" fill="#7058b8"/>
<circle cx="437.8" cy="46.5" r="1.15" fill="#8a6cc0"/>
<circle cx="446.3" cy="46.5" r="0.75" fill="#8a6cc0"/>
<circle cx="454.8" cy="46.5" r="0.57" fill="#c8bce4"/>
<circle cx="463.3" cy="46.5" r="0.65" fill="#a890d0"/>
<circle cx="471.7" cy="46.5" r="0.57" fill="#c8bce4"/>
<circle cx="480.2" cy="46.5" r="0.65" fill="#8a6cc0"/>
<circle cx="488.7" cy="46.5" r="1.55" fill="#9a80c8"/>
<circle cx="497.2" cy="46.5" r="1.90" fill="#7058b8"/>
<circle cx="505.7" cy="46.5" r="1.55" fill="#8a6cc0"/>
<circle cx="514.1" cy="46.5" r="2.00" fill="#6050b0"/>
<circle cx="191.9" cy="60.1" r="2.75" fill="#5a4ab2"/>
<circle cx="200.4" cy="60.1" r="3.25" fill="#4248b0"/>
<circle cx="208.9" cy="60.1" r="0.65" fill="#c8bce4"/>
<circle cx="217.3" cy="60.1" r="0.75" fill="#9a80c8"/>
<circle cx="225.8" cy="60.1" r="2.35" fill="#9b82c9"/>
<circle cx="234.3" cy="60.1" r="1.55" fill="#6850b0"/>
<circle cx="242.8" cy="60.1" r="0.65" fill="#c8bce4"/>
<circle cx="251.3" cy="60.1" r="0.57" fill="#c8bce4"/>
<circle cx="259.7" cy="60.1" r="0.57" fill="#c8bce4"/>
<circle cx="268.2" cy="60.1" r="0.80" fill="#8a6cc0"/>
<circle cx="276.7" cy="60.1" r="0.65" fill="#b0a0d8"/>
<circle cx="285.2" cy="60.1" r="0.65" fill="#9a80c8"/>
<circle cx="293.7" cy="60.1" r="0.65" fill="#b0a0d8"/>
<circle cx="302.1" cy="60.1" r="0.65" fill="#a890d0"/>
<circle cx="310.6" cy="60.1" r="0.65" fill="#b0a0d8"/>
<circle cx="319.1" cy="60.1" r="1.65" fill="#9070c5"/>
<circle cx="327.6" cy="60.1" r="1.10" fill="#8a6cc0"/>
<circle cx="336.1" cy="60.1" r="0.75" fill="#9a80c8"/>
<circle cx="344.5" cy="60.1" r="0.57" fill="#c8bce4"/>
<circle cx="353.0" cy="60.1" r="0.57" fill="#c8bce4"/>
<circle cx="361.5" cy="60.1" r="0.57" fill="#c8bce4"/>
<circle cx="370.0" cy="60.1" r="2.85" fill="#3548ae"/>
<circle cx="378.5" cy="60.1" r="1.10" fill="#3b3aa4"/>
<circle cx="386.9" cy="60.1" r="1.10" fill="#5a4ab0"/>
<circle cx="395.4" cy="60.1" r="2.55" fill="#3548ae"/>
<circle cx="403.9" cy="60.1" r="0.90" fill="#3b3aa4"/>
<circle cx="412.4" cy="60.1" r="0.57" fill="#8a6cc0"/>
<circle cx="420.9" cy="60.1" r="2.70" fill="#3548ae"/>
<circle cx="429.3" cy="60.1" r="2.00" fill="#3b45ac"/>
<circle cx="437.8" cy="60.1" r="1.90" fill="#5a4ab0"/>
<circle cx="446.3" cy="60.1" r="2.00" fill="#3b45ac"/>
<circle cx="454.8" cy="60.1" r="2.35" fill="#3548ae"/>
<circle cx="463.3" cy="60.1" r="2.00" fill="#3548ae"/>
<circle cx="471.7" cy="60.1" r="2.00" fill="#3b45ac"/>
<circle cx="480.2" cy="60.1" r="0.57" fill="#8a6cc0"/>
<circle cx="488.7" cy="60.1" r="1.90" fill="#a890d0"/>
<circle cx="497.2" cy="60.1" r="2.45" fill="#6050b0"/>
<circle cx="505.7" cy="60.1" r="2.45" fill="#6e55b5"/>
<circle cx="514.1" cy="60.1" r="2.70" fill="#6e55b5"/>
<circle cx="191.9" cy="73.7" r="2.00" fill="#6a50b5"/>
<circle cx="200.4" cy="73.7" r="2.00" fill="#8a6cc2"/>
<circle cx="208.9" cy="73.7" r="0.75" fill="#c5b8e0"/>
<circle cx="217.3" cy="73.7" r="1.70" fill="#9a80c8"/>
<circle cx="225.8" cy="73.7" r="1.10" fill="#9070c0"/>
<circle cx="234.3" cy="73.7" r="0.90" fill="#9070c0"/>
<circle cx="242.8" cy="73.7" r="0.90" fill="#a890d0"/>
<circle cx="251.3" cy="73.7" r="0.90" fill="#a890d0"/>
<circle cx="259.7" cy="73.7" r="1.10" fill="#9070c0"/>
<circle cx="268.2" cy="73.7" r="0.90" fill="#9a80c8"/>
<circle cx="276.7" cy="73.7" r="2.25" fill="#9a80c8"/>
<circle cx="285.2" cy="73.7" r="2.10" fill="#6e55b5"/>
<circle cx="293.7" cy="73.7" r="0.90" fill="#b0a0d8"/>
<circle cx="302.1" cy="73.7" r="0.75" fill="#b0a0d8"/>
<circle cx="310.6" cy="73.7" r="1.15" fill="#8060c0"/>
<circle cx="319.1" cy="73.7" r="1.25" fill="#8a6cc0"/>
<circle cx="327.6" cy="73.7" r="1.00" fill="#8a6cc0"/>
<circle cx="336.1" cy="73.7" r="1.10" fill="#7058b8"/>
<circle cx="344.5" cy="73.7" r="0.65" fill="#b0a0d8"/>
<circle cx="353.0" cy="73.7" r="0.57" fill="#c8bce4"/>
<circle cx="361.5" cy="73.7" r="0.65" fill="#b0a0d8"/>
<circle cx="370.0" cy="73.7" r="0.65" fill="#c8bce4"/>
<circle cx="378.5" cy="73.7" r="0.65" fill="#b0a0d8"/>
<circle cx="386.9" cy="73.7" r="0.75" fill="#b0a0d8"/>
<circle cx="395.4" cy="73.7" r="0.65" fill="#a890d0"/>
<circle cx="403.9" cy="73.7" r="0.57" fill="#c8bce4"/>
<circle cx="412.4" cy="73.7" r="0.65" fill="#a890d0"/>
<circle cx="420.9" cy="73.7" r="0.70" fill="#a890d0"/>
<circle cx="429.3" cy="73.7" r="0.65" fill="#8a6cc0"/>
<circle cx="437.8" cy="73.7" r="1.25" fill="#7058b8"/>
<circle cx="446.3" cy="73.7" r="0.65" fill="#a890d0"/>
<circle cx="454.8" cy="73.7" r="0.80" fill="#a890d0"/>
<circle cx="463.3" cy="73.7" r="0.57" fill="#c8bce4"/>
<circle cx="471.7" cy="73.7" r="0.75" fill="#a890d0"/>
<circle cx="480.2" cy="73.7" r="1.10" fill="#3b3aa4"/>
<circle cx="488.7" cy="73.7" r="2.45" fill="#8a6cc0"/>
<circle cx="497.2" cy="73.7" r="1.75" fill="#9a80c8"/>
<circle cx="505.7" cy="73.7" r="2.35" fill="#4a3fa8"/>
<circle cx="514.1" cy="73.7" r="2.45" fill="#6050b0"/>
<circle cx="191.9" cy="87.3" r="2.00" fill="#9070c5"/>
<circle cx="200.4" cy="87.3" r="2.00" fill="#6a50b5"/>
<circle cx="208.9" cy="87.3" r="0.75" fill="#9070c0"/>
<circle cx="217.3" cy="87.3" r="1.90" fill="#9a80c8"/>
<circle cx="225.8" cy="87.3" r="0.90" fill="#9a80c8"/>
<circle cx="234.3" cy="87.3" r="0.75" fill="#9070c0"/>
<circle cx="242.8" cy="87.3" r="0.75" fill="#9a80c8"/>
<circle cx="251.3" cy="87.3" r="0.75" fill="#9a80c8"/>
<circle cx="259.7" cy="87.3" r="1.00" fill="#8a6cc0"/>
<circle cx="268.2" cy="87.3" r="1.15" fill="#6e55b5"/>
<circle cx="276.7" cy="87.3" r="2.25" fill="#9a80c8"/>
<circle cx="285.2" cy="87.3" r="2.10" fill="#6e55b5"/>
<circle cx="293.7" cy="87.3" r="0.57" fill="#c8bce4"/>
<circle cx="302.1" cy="87.3" r="0.65" fill="#a890d0"/>
<circle cx="310.6" cy="87.3" r="1.55" fill="#6e55b5"/>
<circle cx="319.1" cy="87.3" r="0.90" fill="#8a6cc0"/>
<circle cx="327.6" cy="87.3" r="1.15" fill="#8a6cc0"/>
<circle cx="336.1" cy="87.3" r="0.75" fill="#9a80c8"/>
<circle cx="344.5" cy="87.3" r="0.65" fill="#b0a0d8"/>
<circle cx="353.0" cy="87.3" r="0.57" fill="#c8bce4"/>
<circle cx="361.5" cy="87.3" r="0.57" fill="#b0a0d8"/>
<circle cx="370.0" cy="87.3" r="0.57" fill="#c8bce4"/>
<circle cx="378.5" cy="87.3" r="0.75" fill="#8a6cc0"/>
<circle cx="386.9" cy="87.3" r="1.00" fill="#6050b0"/>
<circle cx="395.4" cy="87.3" r="0.65" fill="#8a6cc0"/>
<circle cx="403.9" cy="87.3" r="0.57" fill="#c8bce4"/>
<circle cx="412.4" cy="87.3" r="0.57" fill="#a890d0"/>
<circle cx="420.9" cy="87.3" r="0.65" fill="#b0a0d8"/>
<circle cx="429.3" cy="87.3" r="0.57" fill="#a890d0"/>
<circle cx="437.8" cy="87.3" r="1.75" fill="#6050b0"/>
<circle cx="446.3" cy="87.3" r="0.75" fill="#8a6cc0"/>
<circle cx="454.8" cy="87.3" r="0.65" fill="#b0a0d8"/>
<circle cx="463.3" cy="87.3" r="0.57" fill="#c8bce4"/>
<circle cx="471.7" cy="87.3" r="0.65" fill="#a890d0"/>
<circle cx="480.2" cy="87.3" r="1.30" fill="#3b3aa4"/>
<circle cx="488.7" cy="87.3" r="2.95" fill="#5a4ab0"/>
<circle cx="497.2" cy="87.3" r="2.00" fill="#3b45ac"/>
<circle cx="505.7" cy="87.3" r="0.65" fill="#a890d0"/>
<circle cx="514.1" cy="87.3" r="0.65" fill="#b0a0d8"/>
<circle cx="191.9" cy="100.9" r="0.57" fill="#d8d0e8"/>
<circle cx="200.4" cy="100.9" r="0.90" fill="#9a80c8"/>
<circle cx="208.9" cy="100.9" r="0.90" fill="#9a80c8"/>
<circle cx="217.3" cy="100.9" r="1.00" fill="#9a80c8"/>
<circle cx="225.8" cy="100.9" r="1.35" fill="#7a5ec0"/>
<circle cx="234.3" cy="100.9" r="0.65" fill="#a890d0"/>
<circle cx="242.8" cy="100.9" r="0.75" fill="#c0b0e0"/>
<circle cx="251.3" cy="100.9" r="2.00" fill="#3b3fae"/>
<circle cx="259.7" cy="100.9" r="1.55" fill="#3b3aa4"/>
<circle cx="268.2" cy="100.9" r="1.10" fill="#8a6cc0"/>
<circle cx="276.7" cy="100.9" r="2.10" fill="#8a6cc0"/>
<circle cx="285.2" cy="100.9" r="2.45" fill="#5b4ab0"/>
<circle cx="293.7" cy="100.9" r="2.35" fill="#3545ae"/>
<circle cx="302.1" cy="100.9" r="1.55" fill="#3b3aa4"/>
<circle cx="310.6" cy="100.9" r="0.80" fill="#9a80c8"/>
<circle cx="319.1" cy="100.9" r="2.75" fill="#3545ae"/>
<circle cx="327.6" cy="100.9" r="2.55" fill="#3545ae"/>
<circle cx="336.1" cy="100.9" r="2.85" fill="#3a48b0"/>
<circle cx="344.5" cy="100.9" r="2.55" fill="#3a48ae"/>
<circle cx="353.0" cy="100.9" r="2.00" fill="#3545ae"/>
<circle cx="361.5" cy="100.9" r="0.90" fill="#3b3aa4"/>
<circle cx="370.0" cy="100.9" r="0.57" fill="#c8bce4"/>
<circle cx="378.5" cy="100.9" r="0.65" fill="#b0a0d8"/>
<circle cx="386.9" cy="100.9" r="0.65" fill="#c8bce4"/>
<circle cx="395.4" cy="100.9" r="0.57" fill="#b0a0d8"/>
<circle cx="403.9" cy="100.9" r="0.90" fill="#4a3fa8"/>
<circle cx="412.4" cy="100.9" r="0.57" fill="#b0a0d8"/>
<circle cx="420.9" cy="100.9" r="0.90" fill="#9070c0"/>
<circle cx="429.3" cy="100.9" r="0.75" fill="#8a6cc0"/>
<circle cx="437.8" cy="100.9" r="0.75" fill="#b0a0d8"/>
<circle cx="446.3" cy="100.9" r="0.57" fill="#c8bce4"/>
<circle cx="454.8" cy="100.9" r="0.70" fill="#a890d0"/>
<circle cx="463.3" cy="100.9" r="0.65" fill="#b0a0d8"/>
<circle cx="471.7" cy="100.9" r="0.65" fill="#a890d0"/>
<circle cx="480.2" cy="100.9" r="0.57" fill="#c8bce4"/>
<circle cx="488.7" cy="100.9" r="0.65" fill="#b0a0d8"/>
<circle cx="497.2" cy="100.9" r="0.80" fill="#a890d0"/>
<circle cx="505.7" cy="100.9" r="1.55" fill="#7058b8"/>
<circle cx="514.1" cy="100.9" r="1.65" fill="#8060c0"/>
<circle cx="134.8" cy="19.0" r="3" fill="#e8413c"/>
<text x="140.9" y="21.3" font-size="8" fill="#1e1e1e">Na&#239;ve&#160; T</text>
<line x1="172.4" y1="19.0" x2="187.2" y2="19.0" stroke="#666" stroke-width="1"/>
<circle cx="134.8" cy="32.6" r="3" fill="#1a6db5"/>
<text x="140.9" y="34.9" font-size="8" fill="#1e1e1e">γδ T</text>
<line x1="159.3" y1="32.6" x2="187.2" y2="32.6" stroke="#666" stroke-width="1"/>
<circle cx="134.8" cy="46.2" r="3" fill="#ece23a"/>
<text x="140.9" y="48.5" font-size="8" fill="#1e1e1e">CD8<tspan font-size="4.6" dy="-2.6">+</tspan><tspan dy="2.6"> T</tspan></text>
<line x1="167.8" y1="46.2" x2="187.2" y2="46.2" stroke="#666" stroke-width="1"/>
<circle cx="134.8" cy="59.8" r="3" fill="#1a9461"/>
<text x="140.9" y="62.1" font-size="8" fill="#1e1e1e">Treg</text>
<line x1="161.0" y1="59.8" x2="187.2" y2="59.8" stroke="#666" stroke-width="1"/>
<circle cx="134.8" cy="73.4" r="3" fill="#5cb4e6"/>
<text x="140.9" y="75.7" font-size="8" fill="#1e1e1e">CD4<tspan font-size="4.6" dy="-2.6">+</tspan><tspan dy="2.6"> DR</tspan><tspan font-size="4.6" dy="-2.6">+</tspan><tspan dy="2.6"> T</tspan></text>
<line x1="182.9" y1="73.4" x2="187.2" y2="73.4" stroke="#666" stroke-width="1"/>
<circle cx="134.8" cy="87.0" r="3" fill="#eb9b25"/>
<text x="140.9" y="89.3" font-size="8" fill="#1e1e1e">CD4<tspan font-size="4.6" dy="-2.6">+</tspan><tspan dy="2.6"> DR</tspan><tspan font-size="4.6" dy="-2.6">-</tspan><tspan dy="2.6"> T</tspan></text>
<line x1="182.9" y1="87.0" x2="187.2" y2="87.0" stroke="#666" stroke-width="1"/>
<circle cx="134.8" cy="100.6" r="3" fill="#8c8c8c"/>
<text x="140.9" y="102.9" font-size="8" fill="#1e1e1e">NK</text>
<line x1="154.3" y1="100.6" x2="187.2" y2="100.6" stroke="#666" stroke-width="1"/>
<text transform="translate(194.3,115.8) rotate(-45)" text-anchor="end" font-size="6.9" fill="#1a1a1a">CD3D</text>
<text transform="translate(202.8,115.8) rotate(-45)" text-anchor="end" font-size="6.9" fill="#1a1a1a">CD4</text>
<text transform="translate(211.3,115.8) rotate(-45)" text-anchor="end" font-size="6.9" fill="#1a1a1a">CD8A</text>
<text transform="translate(219.7,115.8) rotate(-45)" text-anchor="end" font-size="6.9" fill="#1a1a1a">TCF7</text>
<text transform="translate(228.2,115.8) rotate(-45)" text-anchor="end" font-size="6.9" fill="#1a1a1a">SELL</text>
<text transform="translate(236.7,115.8) rotate(-45)" text-anchor="end" font-size="6.9" fill="#1a1a1a">LEF1</text>
<text transform="translate(245.2,115.8) rotate(-45)" text-anchor="end" font-size="6.9" fill="#1a1a1a">CCR7</text>
<text transform="translate(253.7,115.8) rotate(-45)" text-anchor="end" font-size="6.9" fill="#1a1a1a">TRDC</text>
<text transform="translate(262.1,115.8) rotate(-45)" text-anchor="end" font-size="6.9" fill="#1a1a1a">TRGC1</text>
<text transform="translate(270.6,115.8) rotate(-45)" text-anchor="end" font-size="6.9" fill="#1a1a1a">TRGC2</text>
<text transform="translate(279.1,115.8) rotate(-45)" text-anchor="end" font-size="6.9" fill="#1a1a1a">CCL5</text>
<text transform="translate(287.6,115.8) rotate(-45)" text-anchor="end" font-size="6.9" fill="#1a1a1a">GZMA</text>
<text transform="translate(296.1,115.8) rotate(-45)" text-anchor="end" font-size="6.9" fill="#1a1a1a">GZMB</text>
<text transform="translate(304.5,115.8) rotate(-45)" text-anchor="end" font-size="6.9" fill="#1a1a1a">GZMH</text>
<text transform="translate(313.0,115.8) rotate(-45)" text-anchor="end" font-size="6.9" fill="#1a1a1a">GZMK</text>
<text transform="translate(321.5,115.8) rotate(-45)" text-anchor="end" font-size="6.9" fill="#1a1a1a">GNLY</text>
<text transform="translate(330.0,115.8) rotate(-45)" text-anchor="end" font-size="6.9" fill="#1a1a1a">PRF1</text>
<text transform="translate(338.5,115.8) rotate(-45)" text-anchor="end" font-size="6.9" fill="#1a1a1a">NKG7</text>
<text transform="translate(346.9,115.8) rotate(-45)" text-anchor="end" font-size="6.9" fill="#1a1a1a">KLRD1</text>
<text transform="translate(355.4,115.8) rotate(-45)" text-anchor="end" font-size="6.9" fill="#1a1a1a">FCGR3A</text>
<text transform="translate(363.9,115.8) rotate(-45)" text-anchor="end" font-size="6.9" fill="#1a1a1a">NCAM1</text>
<text transform="translate(372.4,115.8) rotate(-45)" text-anchor="end" font-size="6.9" fill="#1a1a1a">FOXP3</text>
<text transform="translate(380.9,115.8) rotate(-45)" text-anchor="end" font-size="6.9" fill="#1a1a1a">IL2RA</text>
<text transform="translate(389.3,115.8) rotate(-45)" text-anchor="end" font-size="6.9" fill="#1a1a1a">PDCD1</text>
<text transform="translate(397.8,115.8) rotate(-45)" text-anchor="end" font-size="6.9" fill="#1a1a1a">CTLA4</text>
<text transform="translate(406.3,115.8) rotate(-45)" text-anchor="end" font-size="6.9" fill="#1a1a1a">HAVCR2</text>
<text transform="translate(414.8,115.8) rotate(-45)" text-anchor="end" font-size="6.9" fill="#1a1a1a">LAG3</text>
<text transform="translate(423.3,115.8) rotate(-45)" text-anchor="end" font-size="6.9" fill="#1a1a1a">TIGIT</text>
<text transform="translate(431.7,115.8) rotate(-45)" text-anchor="end" font-size="6.9" fill="#1a1a1a">TOX</text>
<text transform="translate(440.2,115.8) rotate(-45)" text-anchor="end" font-size="6.9" fill="#1a1a1a">MAF</text>
<text transform="translate(448.7,115.8) rotate(-45)" text-anchor="end" font-size="6.9" fill="#1a1a1a">ICOS</text>
<text transform="translate(457.2,115.8) rotate(-45)" text-anchor="end" font-size="6.9" fill="#1a1a1a">TNFRSF4</text>
<text transform="translate(465.7,115.8) rotate(-45)" text-anchor="end" font-size="6.9" fill="#1a1a1a">TNFRSF9</text>
<text transform="translate(474.1,115.8) rotate(-45)" text-anchor="end" font-size="6.9" fill="#1a1a1a">TNFRSF18</text>
<text transform="translate(482.6,115.8) rotate(-45)" text-anchor="end" font-size="6.9" fill="#1a1a1a">CD40LG</text>
<text transform="translate(491.1,115.8) rotate(-45)" text-anchor="end" font-size="6.9" fill="#1a1a1a">IL7R</text>
<text transform="translate(499.6,115.8) rotate(-45)" text-anchor="end" font-size="6.9" fill="#1a1a1a">TNFAIP3</text>
<text transform="translate(508.1,115.8) rotate(-45)" text-anchor="end" font-size="6.9" fill="#1a1a1a">HLA−DRA</text>
<text transform="translate(516.5,115.8) rotate(-45)" text-anchor="end" font-size="6.9" fill="#1a1a1a">HLA−DRB1</text>
<text x="278.3" y="7.8" font-size="6.9" fill="#1e1e1e">Percent Expressed:</text>
<circle cx="345.4" cy="4.8" r="0.5" fill="#111"/>
<text x="348.2" y="6.8" font-size="5.4" fill="#1e1e1e">0</text>
<circle cx="355.3" cy="4.8" r="1.0" fill="#111"/>
<text x="357.7" y="6.8" font-size="5.4" fill="#1e1e1e">25</text>
<circle cx="368.3" cy="4.8" r="1.6" fill="#111"/>
<text x="370.4" y="6.8" font-size="5.4" fill="#1e1e1e">50</text>
<circle cx="382.1" cy="4.8" r="2.3" fill="#111"/>
<text x="384.8" y="6.8" font-size="5.4" fill="#1e1e1e">75</text>
<defs><linearGradient id="gexp" x1="0" x2="1" y1="0" y2="0"><stop offset="0" stop-color="#dcd5ea"/><stop offset="0.5" stop-color="#8a6cc4"/><stop offset="1" stop-color="#2b3a9e"/></linearGradient></defs>
<text x="421.9" y="7.8" font-size="7" fill="#1e1e1e">Expression:</text>
<text x="461.9" y="7.8" font-size="7" fill="#1e1e1e">Min</text>
<rect x="475.2" y="4.1" width="25.2" height="4.1" fill="url(#gexp)"/>
<text x="501.2" y="7.8" font-size="7" fill="#1e1e1e">Max</text>
<rect x="42.8" y="185.3" width="22.1" height="5" fill="#eb9b25"/>
<rect x="66.1" y="185.3" width="22.1" height="5" fill="#ece23a"/>
<rect x="89.5" y="185.3" width="22.1" height="5" fill="#5cb4e6"/>
<rect x="112.8" y="185.3" width="22.1" height="5" fill="#e8413c"/>
<rect x="136.1" y="185.3" width="22.1" height="5" fill="#1a6db5"/>
<rect x="159.4" y="185.3" width="22.1" height="5" fill="#1a9461"/>
<rect x="182.8" y="185.3" width="22.1" height="5" fill="#8c8c8c"/>
<rect x="42.8" y="198.5" width="22.3" height="16.3" fill="#eff5fa"/>
<rect x="66.1" y="198.5" width="22.3" height="16.3" fill="#e8412f"/>
<rect x="89.5" y="198.5" width="22.3" height="16.3" fill="#f6f9fc"/>
<rect x="112.8" y="198.5" width="22.3" height="16.3" fill="#b9d5ea"/>
<rect x="136.1" y="198.5" width="22.3" height="16.3" fill="#f4f7fb"/>
<rect x="159.4" y="198.5" width="22.3" height="16.3" fill="#fdf1ec"/>
<rect x="182.8" y="198.5" width="22.3" height="16.3" fill="#bdd7eb"/>
<rect x="42.8" y="215.8" width="22.3" height="16.3" fill="#d6e6f2"/>
<rect x="66.1" y="215.8" width="22.3" height="16.3" fill="#fdeee6"/>
<rect x="89.5" y="215.8" width="22.3" height="16.3" fill="#e1edf6"/>
<rect x="112.8" y="215.8" width="22.3" height="16.3" fill="#b9d5ea"/>
<rect x="136.1" y="215.8" width="22.3" height="16.3" fill="#eef4f8"/>
<rect x="159.4" y="215.8" width="22.3" height="16.3" fill="#e8412f"/>
<rect x="182.8" y="215.8" width="22.3" height="16.3" fill="#f3f7fb"/>
<rect x="42.8" y="233.1" width="22.3" height="16.3" fill="#f9d3c2"/>
<rect x="66.1" y="233.1" width="22.3" height="16.3" fill="#f9d5c3"/>
<rect x="89.5" y="233.1" width="22.3" height="16.3" fill="#fdf1ec"/>
<rect x="112.8" y="233.1" width="22.3" height="16.3" fill="#abcce4"/>
<rect x="136.1" y="233.1" width="22.3" height="16.3" fill="#96c0dd"/>
<rect x="159.4" y="233.1" width="22.3" height="16.3" fill="#f5a98a"/>
<rect x="182.8" y="233.1" width="22.3" height="16.3" fill="#bdd7eb"/>
<rect x="42.8" y="250.4" width="22.3" height="16.3" fill="#e7f0f8"/>
<rect x="66.1" y="250.4" width="22.3" height="16.3" fill="#d8e7f3"/>
<rect x="89.5" y="250.4" width="22.3" height="16.3" fill="#a6c9e2"/>
<rect x="112.8" y="250.4" width="22.3" height="16.3" fill="#abcce4"/>
<rect x="136.1" y="250.4" width="22.3" height="16.3" fill="#fde6db"/>
<rect x="159.4" y="250.4" width="22.3" height="16.3" fill="#f7b69c"/>
<rect x="182.8" y="250.4" width="22.3" height="16.3" fill="#ef8c62"/>
<rect x="42.8" y="267.7" width="22.3" height="16.3" fill="#fdf6f2"/>
<rect x="66.1" y="267.7" width="22.3" height="16.3" fill="#e4eef6"/>
<rect x="89.5" y="267.7" width="22.3" height="16.3" fill="#eef4f8"/>
<rect x="112.8" y="267.7" width="22.3" height="16.3" fill="#e1edf6"/>
<rect x="136.1" y="267.7" width="22.3" height="16.3" fill="#d9e8f3"/>
<rect x="159.4" y="267.7" width="22.3" height="16.3" fill="#e8382d"/>
<rect x="182.8" y="267.7" width="22.3" height="16.3" fill="#e4eef6"/>
<text x="77.6" y="213.1" text-anchor="middle" font-size="15" fill="#1a1a1a" stroke="#1a1a1a" stroke-width="0.3">*</text>
<text x="170.9" y="230.4" text-anchor="middle" font-size="15" fill="#1a1a1a" stroke="#1a1a1a" stroke-width="0.3">*</text>
<text x="170.9" y="264.9" text-anchor="middle" font-size="15" fill="#1a1a1a" stroke="#1a1a1a" stroke-width="0.3">*</text>
<text x="194.2" y="264.9" text-anchor="middle" font-size="15" fill="#1a1a1a" stroke="#1a1a1a" stroke-width="0.3">*</text>
<text x="170.9" y="282.2" text-anchor="middle" font-size="15" fill="#1a1a1a" stroke="#1a1a1a" stroke-width="0.3">*</text>
<text x="39" y="210.2" text-anchor="end" font-size="8.7" fill="#1e1e1e">LAG3</text>
<text x="39" y="227.0" text-anchor="end" font-size="8.7" fill="#1e1e1e">TIGIT</text>
<text x="39" y="243.9" text-anchor="end" font-size="8.7" fill="#1e1e1e">PDCD1</text>
<text x="39" y="260.8" text-anchor="end" font-size="8.7" fill="#1e1e1e">HAVCR2</text>
<text x="39" y="277.6" text-anchor="end" font-size="8.7" fill="#1e1e1e">CTLA4</text>
<text transform="translate(55.9,183.2) rotate(-45)" font-size="8.8" fill="#1e1e1e">CD4<tspan font-size="4.6" dy="-2.6">+</tspan><tspan dy="2.6"> DR</tspan><tspan font-size="4.6" dy="-2.6">-</tspan><tspan dy="2.6"> T</tspan></text>
<text transform="translate(79.2,183.2) rotate(-45)" font-size="8.8" fill="#1e1e1e">CD8<tspan font-size="4.6" dy="-2.6">+</tspan><tspan dy="2.6"> T</tspan></text>
<text transform="translate(102.5,183.2) rotate(-45)" font-size="8.8" fill="#1e1e1e">CD4<tspan font-size="4.6" dy="-2.6">+</tspan><tspan dy="2.6"> DR</tspan><tspan font-size="4.6" dy="-2.6">+</tspan><tspan dy="2.6"> T</tspan></text>
<text transform="translate(125.9,183.2) rotate(-45)" font-size="8.8" fill="#1e1e1e">Na&#239;ve T</text>
<text transform="translate(149.2,183.2) rotate(-45)" font-size="8.8" fill="#1e1e1e">γδ T</text>
<text transform="translate(172.5,183.2) rotate(-45)" font-size="8.8" fill="#1e1e1e">Treg</text>
<text transform="translate(195.8,183.2) rotate(-45)" font-size="8.8" fill="#1e1e1e">NK</text>
<defs><linearGradient id="ghm" x1="0" x2="0" y1="0" y2="1"><stop offset="0" stop-color="#e6392b"/><stop offset="0.5" stop-color="#fbe4da"/><stop offset="0.7" stop-color="#f7f9fc"/><stop offset="1" stop-color="#9fc7e1"/></linearGradient></defs>
<text x="214.1" y="212.6" font-size="7.0" font-weight="bold" fill="#1a1a1a">Expression</text>
<rect x="214.1" y="215.7" width="8.9" height="45.2" fill="url(#ghm)"/>
<text x="225.9" y="220.6" font-size="7.6" fill="#1e1e1e">Max</text>
<text x="225.9" y="260.8" font-size="7.6" fill="#1e1e1e">Min</text>
<line x1="327.5" y1="198.7" x2="413" y2="198.7" stroke="#ececec" stroke-width="0.8"/>
<line x1="327.5" y1="211.6" x2="413" y2="211.6" stroke="#ececec" stroke-width="0.8"/>
<line x1="327.5" y1="224.6" x2="413" y2="224.6" stroke="#ececec" stroke-width="0.8"/>
<line x1="327.5" y1="237.5" x2="413" y2="237.5" stroke="#ececec" stroke-width="0.8"/>
<line x1="327.5" y1="250.4" x2="413" y2="250.4" stroke="#ececec" stroke-width="0.8"/>
<line x1="327.5" y1="263.3" x2="413" y2="263.3" stroke="#ececec" stroke-width="0.8"/>
<line x1="327.5" y1="276.4" x2="413" y2="276.4" stroke="#ececec" stroke-width="0.8"/>
<line x1="355.5" y1="161" x2="355.5" y2="285.5" stroke="#444" stroke-width="0.8" stroke-dasharray="2 2"/>
<path d="M333 198.7 L343.7 198.7 C344.8 197.8 345.5 194 346.3 190 C347 188.5 348 188.5 349 189 C350 189.6 350.8 190.8 351.4 191.8 C352.5 193 353.5 194.2 354.7 194.2 C355.5 194 356.2 189 357.1 188 C358.5 187.5 359.5 188 360.4 188.5 C361.2 189.5 361.7 192.3 362.3 192.3 C363 192.3 363.6 189 364.2 187.1 C364.8 184 365.2 179 365.6 176.7 C366.3 172 367 167.3 368 167.3 C370 166.5 371.5 171.5 373.5 172 C375.5 172.5 377 172.6 378.8 175.2 C380.5 176 381.5 167 382.6 167.2 C384 167.5 385.5 172 386.2 180 C387 188 388 196 390.3 198 C392.5 199 394 191.6 395.8 191.6 C397.5 191.8 398 193.5 399.2 194.2 C401 195 402 196 403.1 196.3 C405 197.5 406.5 198.6 408.8 198.6" fill="none" stroke="#139064" stroke-width="1.6" stroke-linejoin="round"/>
<path d="M333 211.6 L340 211.6 C341.5 211.2 342.5 209 343.5 205 C345 197 346.5 185 348 176 C349 170 350.3 166.5 351.5 166.3 C352.8 166.3 353.5 169 354.5 172.5 C355.5 175.5 356.5 177.5 357.4 179.4 C358.8 181.5 359.5 182 360.2 183 C361.5 185.5 362.3 188 363.4 189.8 C364.8 191.8 366 193 367.4 194.4 C368.5 196 369.5 198.5 370.3 200.5 C370.9 202 371.3 203 371.8 204 C372.2 205.5 372.8 207 373.8 207.8 C375 208.5 376.5 208.5 378 208.5 L381.7 208.5 C383.5 208.6 384.5 210.2 385.6 210.7 C387 211.3 390 211.4 408.8 211.4" fill="none" stroke="#ece23a" stroke-width="1.6" stroke-linejoin="round"/>
<path d="M333 224.6 L339.7 224.6 C341 224.3 342 222.5 342.6 221 C345 212 347.5 190 350.2 172 C351.3 165 352.3 161.8 353.2 161.8 C354.2 161.8 355 165 355.8 170 C357.5 182 359 197 361 208 C363 215 366 218.5 368.3 219.8 C369.5 221 370.5 221.5 371.8 223.5 C373.5 224.5 376 224.6 408.8 224.6" fill="none" stroke="#5ab2e6" stroke-width="1.6" stroke-linejoin="round"/>
<path d="M333 237.6 L340.7 237.6 C341.8 237.3 342.3 236.5 342.6 235.6 C344 228 346.5 200 350 180 C351 174.5 351.7 172.5 352.3 172.5 C353 172.5 354 176 355 184 C357 200 359.5 214 361.5 220 C362.5 222.5 363.2 224 364 225.8 C366 229 367.5 230.5 368.9 231.7 C370 233 370.8 235 371.8 235.6 C373 235.8 374 235 374.7 235.1 C376 235.4 377 236 377.7 236.2 C379 237 380 237.5 408.8 237.5" fill="none" stroke="#1266b0" stroke-width="1.6" stroke-linejoin="round"/>
<path d="M333 250.5 L338.8 250.5 C340 250 341 248 341.7 245 C344 235 348 205 350.5 193 C351 191.5 351.8 191.3 352.3 192 C353.8 196 355.5 204 357.2 220 C358.5 226 360.5 230 362.1 232.6 C364 236 365.5 239.5 367 242.4 C368 244.5 368.5 246 369.5 246.8 C371 247.3 372 247.4 373 247.6 C374.5 247.9 376 248.5 377.5 249.2 C379 250 380 250.4 408.8 250.4" fill="none" stroke="#8f8f8f" stroke-width="1.6" stroke-linejoin="round"/>
<path d="M333 263.4 L335.8 263.4 C337.5 263.3 338.8 262 339.7 260.6 C340.8 258.5 341.5 256.5 342.2 254.7 C345 240 348.5 212 351 209 C351.5 208.5 352 208.6 352.5 209.5 C354.5 216 357.5 236 360.2 245 C361.2 248 362 249.5 363.1 250.8 C364.5 253 365 254.5 366 255.7 C367 257 368 258 368.9 258.6 C370.5 259.5 371.5 259.8 372.8 260.1 C374 260.6 375 261.2 375.7 261.5 C377 262 378.5 262.3 380 262.4 C385 262.8 390 263.2 408.8 263.2" fill="none" stroke="#eb9b22" stroke-width="1.6" stroke-linejoin="round"/>
<path d="M333 276.5 L334.9 276.5 C336 276.3 336.8 275.9 337.3 275.5 C338.5 274.5 339.2 273 339.7 271.6 C340.5 269.5 341 267.5 341.2 265.8 C342 258 343.5 242 345 230 C346.5 220 348.5 214 350.5 213.5 C351.5 213.3 352.3 214 352.9 216 C354 225 355.5 245 356.8 258 C357.5 262 358 264.5 358.7 266.8 C359.5 268.8 360.5 270.5 361.6 271.6 C362.5 272.3 363.5 272.7 364.5 272.8 C365.5 272.9 366 273.1 366.5 273.4 C367.5 274 368.5 275 369.4 275.5 C370.3 276 371 276.4 371.8 276.5 L408.8 276.5" fill="none" stroke="#e8363a" stroke-width="1.6" stroke-linejoin="round"/>
<text x="326.6" y="199.0" text-anchor="end" font-size="8.6" fill="#1e1e1e">Treg</text>
<text x="326.6" y="211.9" text-anchor="end" font-size="8.6" fill="#1e1e1e">CD8<tspan font-size="4.6" dy="-2.6">+</tspan><tspan dy="2.6"> T</tspan></text>
<text x="326.6" y="224.9" text-anchor="end" font-size="8.6" fill="#1e1e1e">CD4<tspan font-size="4.6" dy="-2.6">+</tspan><tspan dy="2.6"> DR</tspan><tspan font-size="4.6" dy="-2.6">+</tspan><tspan dy="2.6"> T</tspan></text>
<text x="326.6" y="237.8" text-anchor="end" font-size="8.6" fill="#1e1e1e">γδ T</text>
<text x="326.6" y="250.7" text-anchor="end" font-size="8.6" fill="#1e1e1e">NK</text>
<text x="326.6" y="263.6" text-anchor="end" font-size="8.6" fill="#1e1e1e">CD4<tspan font-size="4.6" dy="-2.6">+</tspan><tspan dy="2.6"> DR</tspan><tspan font-size="4.6" dy="-2.6">-</tspan><tspan dy="2.6"> T</tspan></text>
<text x="326.6" y="276.7" text-anchor="end" font-size="8.6" fill="#1e1e1e">Na&#239;ve T</text>
<text x="331.4" y="294.3" text-anchor="middle" font-size="9.2" fill="#1e1e1e">–0.5</text>
<text x="355.9" y="294.3" text-anchor="middle" font-size="9.2" fill="#1e1e1e">0.0</text>
<text x="381.6" y="294.3" text-anchor="middle" font-size="9.2" fill="#1e1e1e">0.5</text>
<text x="407.3" y="294.3" text-anchor="middle" font-size="9.2" fill="#1e1e1e">1.0</text>
<text x="413.3" y="203.0" font-size="10.2" fill="#1e1e1e">***</text>
<text x="413.3" y="215.2" font-size="10.2" fill="#1e1e1e">***</text>
<text x="413.3" y="229.4" font-size="10.2" fill="#1e1e1e">*</text>
<text x="413.3" y="241.8" font-size="10.2" fill="#1e1e1e">*</text>
<text x="329.2" y="154.2" font-size="8.7" font-weight="bold" fill="#1a1a1a">Dysfunction score</text>
</svg>

</body></html>
